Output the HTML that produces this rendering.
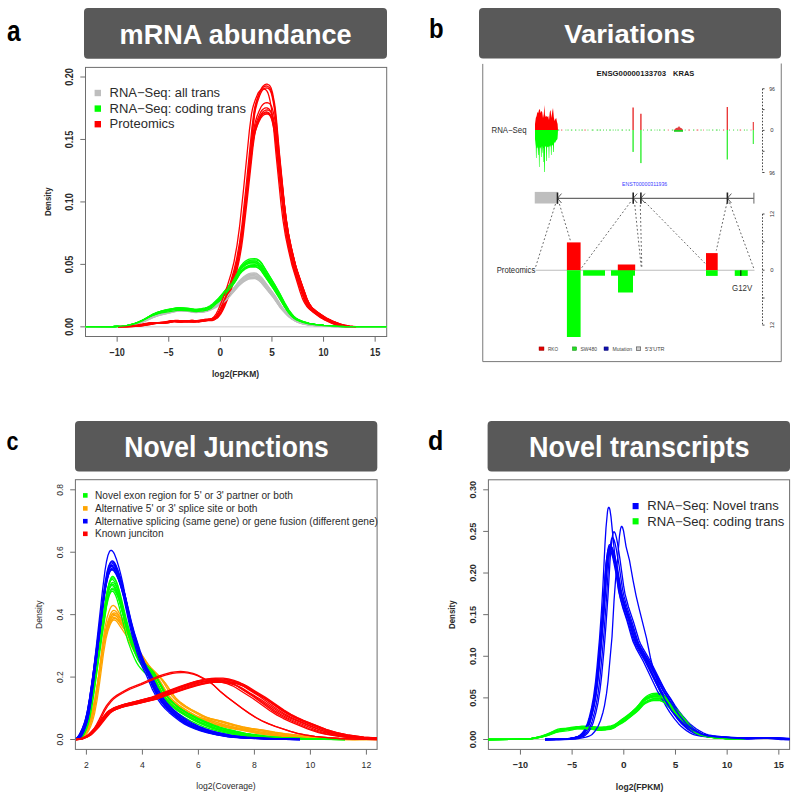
<!DOCTYPE html>
<html><head><meta charset="utf-8"><style>
html,body{margin:0;padding:0;background:#fff;}
svg{display:block;font-family:"Liberation Sans", sans-serif;}
</style></head><body>
<svg width="800" height="800" viewBox="0 0 800 800">
<rect width="800" height="800" fill="#fff"/>
<rect x="84" y="8" width="303" height="50.7" rx="4" fill="#595959"/>
<text x="119.60" y="43.80" font-size="26.71" fill="#fff" font-weight="bold" textLength="232" lengthAdjust="spacingAndGlyphs">mRNA abundance</text>
<rect x="479" y="8" width="302" height="50.6" rx="4" fill="#595959"/>
<text x="564.20" y="43.00" font-size="26.18" fill="#fff" font-weight="bold" textLength="131" lengthAdjust="spacingAndGlyphs">Variations</text>
<rect x="75" y="421" width="302.3" height="50.5" rx="4" fill="#595959"/>
<text x="124.30" y="456.60" font-size="29.26" fill="#fff" font-weight="bold" textLength="204.5" lengthAdjust="spacingAndGlyphs">Novel Junctions</text>
<rect x="487.6" y="421" width="302.4" height="50.60000000000002" rx="4" fill="#595959"/>
<text x="529.00" y="456.80" font-size="29.47" fill="#fff" font-weight="bold" textLength="220.5" lengthAdjust="spacingAndGlyphs">Novel transcripts</text>
<text x="6.90" y="40.60" font-size="29.68" fill="#000" font-weight="bold" textLength="13.6" lengthAdjust="spacingAndGlyphs">a</text>
<text x="428.90" y="37.50" font-size="27.56" fill="#000" font-weight="bold" textLength="14.6" lengthAdjust="spacingAndGlyphs">b</text>
<text x="6.60" y="450.20" font-size="26.08" fill="#000" font-weight="bold" textLength="12.0" lengthAdjust="spacingAndGlyphs">c</text>
<text x="427.90" y="450.20" font-size="27.88" fill="#000" font-weight="bold" textLength="15.3" lengthAdjust="spacingAndGlyphs">d</text>
<rect x="85.5" y="67.4" width="301.2" height="269.1" fill="none" stroke="#6e6e6e" stroke-width="1"/>
<line x1="80.30" y1="326.85" x2="85.50" y2="326.85" stroke="#6e6e6e" stroke-width="1"/>
<text x="72.90" y="326.85" font-size="10.18" fill="#2b2b2b" font-weight="bold" text-anchor="middle" textLength="17.6" lengthAdjust="spacingAndGlyphs" transform="rotate(-90 72.90 326.85)">0.00</text>
<line x1="80.30" y1="264.39" x2="85.50" y2="264.39" stroke="#6e6e6e" stroke-width="1"/>
<text x="72.90" y="264.39" font-size="10.18" fill="#2b2b2b" font-weight="bold" text-anchor="middle" textLength="17.6" lengthAdjust="spacingAndGlyphs" transform="rotate(-90 72.90 264.39)">0.05</text>
<line x1="80.30" y1="201.93" x2="85.50" y2="201.93" stroke="#6e6e6e" stroke-width="1"/>
<text x="72.90" y="201.93" font-size="10.18" fill="#2b2b2b" font-weight="bold" text-anchor="middle" textLength="17.6" lengthAdjust="spacingAndGlyphs" transform="rotate(-90 72.90 201.93)">0.10</text>
<line x1="80.30" y1="139.46" x2="85.50" y2="139.46" stroke="#6e6e6e" stroke-width="1"/>
<text x="72.90" y="139.46" font-size="10.18" fill="#2b2b2b" font-weight="bold" text-anchor="middle" textLength="17.6" lengthAdjust="spacingAndGlyphs" transform="rotate(-90 72.90 139.46)">0.15</text>
<line x1="80.30" y1="77.00" x2="85.50" y2="77.00" stroke="#6e6e6e" stroke-width="1"/>
<text x="72.90" y="77.00" font-size="10.18" fill="#2b2b2b" font-weight="bold" text-anchor="middle" textLength="17.6" lengthAdjust="spacingAndGlyphs" transform="rotate(-90 72.90 77.00)">0.20</text>
<line x1="117.15" y1="336.50" x2="117.15" y2="341.70" stroke="#6e6e6e" stroke-width="1"/>
<text x="117.15" y="355.90" font-size="10.18" fill="#2b2b2b" font-weight="bold" text-anchor="middle" textLength="15.4" lengthAdjust="spacingAndGlyphs">−10</text>
<line x1="168.75" y1="336.50" x2="168.75" y2="341.70" stroke="#6e6e6e" stroke-width="1"/>
<text x="168.75" y="355.90" font-size="10.18" fill="#2b2b2b" font-weight="bold" text-anchor="middle" textLength="9.8" lengthAdjust="spacingAndGlyphs">−5</text>
<line x1="220.35" y1="336.50" x2="220.35" y2="341.70" stroke="#6e6e6e" stroke-width="1"/>
<text x="220.35" y="355.90" font-size="10.18" fill="#2b2b2b" font-weight="bold" text-anchor="middle" textLength="5.6" lengthAdjust="spacingAndGlyphs">0</text>
<line x1="271.95" y1="336.50" x2="271.95" y2="341.70" stroke="#6e6e6e" stroke-width="1"/>
<text x="271.95" y="355.90" font-size="10.18" fill="#2b2b2b" font-weight="bold" text-anchor="middle" textLength="5.6" lengthAdjust="spacingAndGlyphs">5</text>
<line x1="323.55" y1="336.50" x2="323.55" y2="341.70" stroke="#6e6e6e" stroke-width="1"/>
<text x="323.55" y="355.90" font-size="10.18" fill="#2b2b2b" font-weight="bold" text-anchor="middle" textLength="10.2" lengthAdjust="spacingAndGlyphs">10</text>
<line x1="375.15" y1="336.50" x2="375.15" y2="341.70" stroke="#6e6e6e" stroke-width="1"/>
<text x="375.15" y="355.90" font-size="10.18" fill="#2b2b2b" font-weight="bold" text-anchor="middle" textLength="10.2" lengthAdjust="spacingAndGlyphs">15</text>
<line x1="85.50" y1="326.85" x2="386.70" y2="326.85" stroke="#c8c8c8" stroke-width="1"/>
<text x="235.50" y="376.50" font-size="9.12" fill="#2b2b2b" font-weight="bold" text-anchor="middle" textLength="47" lengthAdjust="spacingAndGlyphs">log2(FPKM)</text>
<text x="50.80" y="201.70" font-size="8.48" fill="#2b2b2b" font-weight="bold" text-anchor="middle" textLength="28.6" lengthAdjust="spacingAndGlyphs" transform="rotate(-90 50.80 201.70)">Density</text>
<rect x="94.60" y="89.80" width="6.40" height="6.40" fill="#bebebe"/>
<text x="109.60" y="97.20" font-size="12.30" fill="#2b2b2b" textLength="110.5" lengthAdjust="spacingAndGlyphs">RNA−Seq: all trans</text>
<rect x="94.60" y="105.40" width="6.40" height="6.40" fill="#00ff00"/>
<text x="109.60" y="112.80" font-size="12.30" fill="#2b2b2b" textLength="136.3" lengthAdjust="spacingAndGlyphs">RNA−Seq: coding trans</text>
<rect x="94.60" y="121.00" width="6.40" height="6.40" fill="#ff0000"/>
<text x="109.60" y="128.40" font-size="12.30" fill="#2b2b2b" textLength="65" lengthAdjust="spacingAndGlyphs">Proteomics</text>
<rect x="75.4" y="479.7" width="301.70000000000005" height="269.7" fill="none" stroke="#6e6e6e" stroke-width="1"/>
<line x1="70.20" y1="739.50" x2="75.40" y2="739.50" stroke="#6e6e6e" stroke-width="1"/>
<text x="63.30" y="739.50" font-size="9.01" fill="#2b2b2b" text-anchor="middle" textLength="11.8" lengthAdjust="spacingAndGlyphs" transform="rotate(-90 63.30 739.50)">0.0</text>
<line x1="70.20" y1="677.08" x2="75.40" y2="677.08" stroke="#6e6e6e" stroke-width="1"/>
<text x="63.30" y="677.08" font-size="9.01" fill="#2b2b2b" text-anchor="middle" textLength="11.8" lengthAdjust="spacingAndGlyphs" transform="rotate(-90 63.30 677.08)">0.2</text>
<line x1="70.20" y1="614.65" x2="75.40" y2="614.65" stroke="#6e6e6e" stroke-width="1"/>
<text x="63.30" y="614.65" font-size="9.01" fill="#2b2b2b" text-anchor="middle" textLength="11.8" lengthAdjust="spacingAndGlyphs" transform="rotate(-90 63.30 614.65)">0.4</text>
<line x1="70.20" y1="552.23" x2="75.40" y2="552.23" stroke="#6e6e6e" stroke-width="1"/>
<text x="63.30" y="552.23" font-size="9.01" fill="#2b2b2b" text-anchor="middle" textLength="11.8" lengthAdjust="spacingAndGlyphs" transform="rotate(-90 63.30 552.23)">0.6</text>
<line x1="70.20" y1="489.80" x2="75.40" y2="489.80" stroke="#6e6e6e" stroke-width="1"/>
<text x="63.30" y="489.80" font-size="9.01" fill="#2b2b2b" text-anchor="middle" textLength="11.8" lengthAdjust="spacingAndGlyphs" transform="rotate(-90 63.30 489.80)">0.8</text>
<line x1="86.40" y1="749.40" x2="86.40" y2="754.60" stroke="#6e6e6e" stroke-width="1"/>
<text x="86.40" y="768.10" font-size="9.01" fill="#2b2b2b" text-anchor="middle" textLength="4.8" lengthAdjust="spacingAndGlyphs">2</text>
<line x1="142.40" y1="749.40" x2="142.40" y2="754.60" stroke="#6e6e6e" stroke-width="1"/>
<text x="142.40" y="768.10" font-size="9.01" fill="#2b2b2b" text-anchor="middle" textLength="4.8" lengthAdjust="spacingAndGlyphs">4</text>
<line x1="198.40" y1="749.40" x2="198.40" y2="754.60" stroke="#6e6e6e" stroke-width="1"/>
<text x="198.40" y="768.10" font-size="9.01" fill="#2b2b2b" text-anchor="middle" textLength="4.8" lengthAdjust="spacingAndGlyphs">6</text>
<line x1="254.40" y1="749.40" x2="254.40" y2="754.60" stroke="#6e6e6e" stroke-width="1"/>
<text x="254.40" y="768.10" font-size="9.01" fill="#2b2b2b" text-anchor="middle" textLength="4.8" lengthAdjust="spacingAndGlyphs">8</text>
<line x1="310.40" y1="749.40" x2="310.40" y2="754.60" stroke="#6e6e6e" stroke-width="1"/>
<text x="310.40" y="768.10" font-size="9.01" fill="#2b2b2b" text-anchor="middle" textLength="9.6" lengthAdjust="spacingAndGlyphs">10</text>
<line x1="366.40" y1="749.40" x2="366.40" y2="754.60" stroke="#6e6e6e" stroke-width="1"/>
<text x="366.40" y="768.10" font-size="9.01" fill="#2b2b2b" text-anchor="middle" textLength="9.6" lengthAdjust="spacingAndGlyphs">12</text>
<text x="226.00" y="789.20" font-size="9.12" fill="#2b2b2b" text-anchor="middle" textLength="59.5" lengthAdjust="spacingAndGlyphs">log2(Coverage)</text>
<text x="42.20" y="614.75" font-size="9.01" fill="#2b2b2b" text-anchor="middle" textLength="28.6" lengthAdjust="spacingAndGlyphs" transform="rotate(-90 42.20 614.75)">Density</text>
<rect x="83.00" y="493.10" width="4.60" height="4.60" fill="#00ff00"/>
<text x="95.00" y="499.00" font-size="10.49" fill="#2b2b2b" textLength="198" lengthAdjust="spacingAndGlyphs">Novel exon region for 5' or 3' partner or both</text>
<rect x="83.00" y="506.10" width="4.60" height="4.60" fill="#ffa500"/>
<text x="95.00" y="512.00" font-size="10.49" fill="#2b2b2b" textLength="162.5" lengthAdjust="spacingAndGlyphs">Alternative 5' or 3' splice site or both</text>
<rect x="83.00" y="518.90" width="4.60" height="4.60" fill="#0000ff"/>
<text x="95.00" y="524.80" font-size="10.49" fill="#2b2b2b" textLength="283" lengthAdjust="spacingAndGlyphs">Alternative splicing (same gene) or gene fusion (different gene)</text>
<rect x="83.00" y="531.50" width="4.60" height="4.60" fill="#ff0000"/>
<text x="95.00" y="537.40" font-size="10.49" fill="#2b2b2b" textLength="68.5" lengthAdjust="spacingAndGlyphs">Known junciton</text>
<rect x="488.4" y="479.8" width="301.20000000000005" height="269.59999999999997" fill="none" stroke="#6e6e6e" stroke-width="1"/>
<line x1="483.20" y1="739.50" x2="488.40" y2="739.50" stroke="#6e6e6e" stroke-width="1"/>
<text x="476.20" y="739.50" font-size="9.54" fill="#2b2b2b" font-weight="bold" text-anchor="middle" textLength="17.6" lengthAdjust="spacingAndGlyphs" transform="rotate(-90 476.20 739.50)">0.00</text>
<line x1="483.20" y1="697.88" x2="488.40" y2="697.88" stroke="#6e6e6e" stroke-width="1"/>
<text x="476.20" y="697.88" font-size="9.54" fill="#2b2b2b" font-weight="bold" text-anchor="middle" textLength="17.6" lengthAdjust="spacingAndGlyphs" transform="rotate(-90 476.20 697.88)">0.05</text>
<line x1="483.20" y1="656.27" x2="488.40" y2="656.27" stroke="#6e6e6e" stroke-width="1"/>
<text x="476.20" y="656.27" font-size="9.54" fill="#2b2b2b" font-weight="bold" text-anchor="middle" textLength="17.6" lengthAdjust="spacingAndGlyphs" transform="rotate(-90 476.20 656.27)">0.10</text>
<line x1="483.20" y1="614.65" x2="488.40" y2="614.65" stroke="#6e6e6e" stroke-width="1"/>
<text x="476.20" y="614.65" font-size="9.54" fill="#2b2b2b" font-weight="bold" text-anchor="middle" textLength="17.6" lengthAdjust="spacingAndGlyphs" transform="rotate(-90 476.20 614.65)">0.15</text>
<line x1="483.20" y1="573.03" x2="488.40" y2="573.03" stroke="#6e6e6e" stroke-width="1"/>
<text x="476.20" y="573.03" font-size="9.54" fill="#2b2b2b" font-weight="bold" text-anchor="middle" textLength="17.6" lengthAdjust="spacingAndGlyphs" transform="rotate(-90 476.20 573.03)">0.20</text>
<line x1="483.20" y1="531.42" x2="488.40" y2="531.42" stroke="#6e6e6e" stroke-width="1"/>
<text x="476.20" y="531.42" font-size="9.54" fill="#2b2b2b" font-weight="bold" text-anchor="middle" textLength="17.6" lengthAdjust="spacingAndGlyphs" transform="rotate(-90 476.20 531.42)">0.25</text>
<line x1="483.20" y1="489.80" x2="488.40" y2="489.80" stroke="#6e6e6e" stroke-width="1"/>
<text x="476.20" y="489.80" font-size="9.54" fill="#2b2b2b" font-weight="bold" text-anchor="middle" textLength="17.6" lengthAdjust="spacingAndGlyphs" transform="rotate(-90 476.20 489.80)">0.30</text>
<line x1="520.44" y1="749.40" x2="520.44" y2="754.60" stroke="#6e6e6e" stroke-width="1"/>
<text x="520.44" y="768.20" font-size="9.54" fill="#2b2b2b" font-weight="bold" text-anchor="middle" textLength="15.4" lengthAdjust="spacingAndGlyphs">−10</text>
<line x1="572.12" y1="749.40" x2="572.12" y2="754.60" stroke="#6e6e6e" stroke-width="1"/>
<text x="572.12" y="768.20" font-size="9.54" fill="#2b2b2b" font-weight="bold" text-anchor="middle" textLength="9.8" lengthAdjust="spacingAndGlyphs">−5</text>
<line x1="623.80" y1="749.40" x2="623.80" y2="754.60" stroke="#6e6e6e" stroke-width="1"/>
<text x="623.80" y="768.20" font-size="9.54" fill="#2b2b2b" font-weight="bold" text-anchor="middle" textLength="5.6" lengthAdjust="spacingAndGlyphs">0</text>
<line x1="675.48" y1="749.40" x2="675.48" y2="754.60" stroke="#6e6e6e" stroke-width="1"/>
<text x="675.48" y="768.20" font-size="9.54" fill="#2b2b2b" font-weight="bold" text-anchor="middle" textLength="5.6" lengthAdjust="spacingAndGlyphs">5</text>
<line x1="727.16" y1="749.40" x2="727.16" y2="754.60" stroke="#6e6e6e" stroke-width="1"/>
<text x="727.16" y="768.20" font-size="9.54" fill="#2b2b2b" font-weight="bold" text-anchor="middle" textLength="10.2" lengthAdjust="spacingAndGlyphs">10</text>
<line x1="778.84" y1="749.40" x2="778.84" y2="754.60" stroke="#6e6e6e" stroke-width="1"/>
<text x="778.84" y="768.20" font-size="9.54" fill="#2b2b2b" font-weight="bold" text-anchor="middle" textLength="10.2" lengthAdjust="spacingAndGlyphs">15</text>
<line x1="488.40" y1="739.50" x2="789.60" y2="739.50" stroke="#c8c8c8" stroke-width="1"/>
<text x="639.60" y="790.00" font-size="9.12" fill="#2b2b2b" font-weight="bold" text-anchor="middle" textLength="47.5" lengthAdjust="spacingAndGlyphs">log2(FPKM)</text>
<text x="454.90" y="614.75" font-size="8.48" fill="#2b2b2b" font-weight="bold" text-anchor="middle" textLength="28.6" lengthAdjust="spacingAndGlyphs" transform="rotate(-90 454.90 614.75)">Density</text>
<rect x="632.60" y="503.00" width="6.00" height="6.20" fill="#0000ff"/>
<text x="647.30" y="510.40" font-size="12.08" fill="#2b2b2b" textLength="131.5" lengthAdjust="spacingAndGlyphs">RNA−Seq: Novel trans</text>
<rect x="632.60" y="518.20" width="6.00" height="6.20" fill="#00ff00"/>
<text x="647.30" y="525.60" font-size="12.08" fill="#2b2b2b" textLength="137" lengthAdjust="spacingAndGlyphs">RNA−Seq: coding trans</text>
<path d="M85.5,326.7 119.0,326.4 123.0,326.2 127.5,325.8 133.0,324.7 138.5,323.1 145.0,320.5 152.5,316.7 160.0,313.4 166.0,311.5 173.0,309.9 176.5,309.3 179.5,309.2 188.5,310.1 194.0,310.9 196.5,311.0 201.5,310.6 207.0,309.5 210.5,308.0 218.0,303.8 221.0,301.8 224.0,299.3 226.0,297.4 228.5,294.6 239.0,281.3 241.5,278.7 244.0,276.5 247.0,274.6 249.0,273.6 251.0,273.2 254.0,273.0 256.0,273.2 257.5,273.9 260.0,275.9 262.0,278.0 274.5,295.1 281.0,305.7 284.0,309.6 287.5,313.6 290.0,316.1 293.0,318.6 296.0,320.5 299.5,322.2 303.5,323.5 308.5,324.6 315.5,325.6 321.5,326.0 338.5,326.6 386.5,326.7" fill="none" stroke="#bebebe" stroke-width="1.3" stroke-linejoin="round"/>
<path d="M118.0,326.6 129.0,326.5 138.5,326.0 149.5,324.2 155.0,323.0 168.0,322.4 170.0,322.0 174.0,321.0 176.0,320.8 183.0,320.7 191.0,321.4 197.5,320.6 208.5,320.3 210.5,319.8 214.5,317.5 218.0,315.9 219.5,314.5 221.0,312.4 223.0,308.1 226.5,298.5 229.5,289.7 232.5,280.1 236.5,265.4 238.0,258.4 239.5,250.2 241.5,237.4 243.5,221.1 247.5,181.9 253.0,124.8 254.5,112.3 255.5,106.4 257.5,98.7 259.5,93.0 261.0,89.4 262.0,87.5 263.5,85.7 265.0,84.6 266.5,84.1 267.5,84.2 269.0,85.0 270.0,86.0 271.0,87.8 272.5,92.7 274.5,103.0 275.5,110.4 276.5,120.0 279.5,154.0 284.5,205.1 286.5,221.2 288.5,233.9 291.0,246.4 295.0,264.0 303.0,291.0 305.0,297.0 306.5,300.6 308.0,303.5 309.5,305.7 311.0,307.5 313.5,309.8 319.5,314.7 322.0,316.6 325.0,318.5 329.0,320.6 334.0,323.0 336.5,324.1 339.0,324.8 343.5,325.8 347.0,326.4 356.0,326.6" fill="none" stroke="#ff0000" stroke-width="1.3" stroke-linejoin="round"/>
<path d="M85.5,326.7 113.5,326.5 121.5,326.2 127.0,325.6 132.0,324.5 137.5,322.6 144.0,319.5 151.0,315.2 153.5,314.0 159.0,311.8 164.5,310.3 174.5,308.3 177.5,307.8 180.0,307.8 184.5,308.1 189.0,308.4 194.0,309.2 196.5,309.3 201.5,308.6 205.0,307.9 207.0,307.3 210.0,305.8 212.5,303.9 218.5,298.2 223.0,293.2 228.5,286.3 232.5,280.7 235.5,275.8 239.5,268.0 241.0,265.7 243.0,263.3 245.5,261.1 248.5,259.4 250.5,258.8 254.5,258.6 256.5,258.9 258.0,259.6 260.0,261.1 261.5,262.8 274.5,284.4 279.5,293.4 285.0,304.0 288.5,309.9 291.0,313.4 293.5,316.3 295.5,318.0 298.0,319.5 303.0,321.6 309.0,323.3 316.0,324.6 323.5,325.4 343.5,326.4 386.5,326.7" fill="none" stroke="#00ff00" stroke-width="1.3" stroke-linejoin="round"/>
<path d="M85.5,326.7 120.0,326.4 125.5,326.0 130.0,325.4 136.0,323.9 140.5,322.4 145.0,320.4 153.5,315.9 160.5,313.1 166.5,311.4 175.0,309.7 177.5,309.5 180.5,309.7 187.5,310.7 193.0,311.8 195.5,312.0 200.0,311.7 205.5,310.6 207.5,309.8 210.0,308.3 221.0,301.1 225.0,298.1 227.0,296.2 230.0,292.9 238.5,282.5 240.5,280.4 243.0,278.3 246.0,276.3 248.5,275.1 250.5,274.7 253.5,274.5 255.5,274.7 257.0,275.5 259.5,277.4 261.5,279.5 274.0,296.2 280.5,306.4 283.5,310.2 287.0,314.1 289.5,316.5 292.5,318.9 296.0,321.0 299.0,322.4 303.0,323.6 308.0,324.7 315.0,325.6 321.0,326.0 338.0,326.6 386.5,326.7" fill="none" stroke="#bebebe" stroke-width="1.3" stroke-linejoin="round"/>
<path d="M118.0,326.6 125.5,326.5 134.0,326.0 144.5,324.4 150.5,323.0 155.5,322.9 160.5,322.5 165.0,322.4 171.5,320.9 175.5,320.4 178.0,320.5 183.0,321.5 185.0,321.6 187.0,321.3 190.5,320.3 192.0,320.2 193.5,320.4 196.5,321.4 198.5,321.6 200.0,321.2 203.0,319.8 204.5,319.4 206.0,319.2 210.5,319.2 213.0,318.6 214.5,317.9 215.5,317.1 217.5,314.5 220.5,308.5 225.5,296.9 227.5,291.6 230.0,283.8 233.5,271.8 236.5,259.5 239.5,242.9 242.0,224.5 246.5,182.1 252.0,127.0 254.0,111.5 255.0,106.5 256.0,102.7 257.5,98.1 260.0,91.8 261.5,89.1 262.5,87.8 264.5,86.4 266.0,86.0 267.5,86.2 269.0,87.2 270.0,88.4 271.0,90.5 272.0,93.8 273.0,98.0 274.5,106.3 276.0,118.6 279.0,151.3 284.0,201.2 286.0,217.8 288.5,233.7 291.0,246.0 295.5,265.1 299.5,277.6 303.5,291.0 305.5,296.8 307.0,300.3 308.5,303.2 310.0,305.5 311.5,307.3 314.0,309.6 320.0,314.3 325.5,318.1 332.5,321.7 337.0,323.6 340.0,324.7 344.5,325.7 348.5,326.3 356.0,326.6" fill="none" stroke="#ff0000" stroke-width="1.3" stroke-linejoin="round"/>
<path d="M85.5,326.7 114.5,326.5 122.5,326.1 128.0,325.4 134.0,323.7 138.5,322.1 144.0,319.5 151.5,315.2 157.5,312.7 165.0,310.3 176.0,307.8 179.0,307.6 183.5,307.9 188.0,308.5 194.0,309.8 196.5,310.1 202.5,309.7 205.0,309.3 207.0,308.7 210.0,307.2 212.5,305.3 217.0,301.1 220.5,297.1 232.0,281.8 235.0,277.0 239.0,269.6 242.0,265.7 244.5,263.5 247.5,261.7 250.0,261.0 253.5,260.8 255.5,261.0 257.5,261.9 259.5,263.4 261.0,265.1 274.0,286.1 279.0,294.9 284.5,305.1 288.0,310.8 290.5,314.1 293.0,316.8 295.0,318.4 297.5,319.9 302.5,321.8 308.5,323.5 315.5,324.7 323.5,325.5 343.0,326.5 386.5,326.7" fill="none" stroke="#00ff00" stroke-width="1.3" stroke-linejoin="round"/>
<path d="M85.5,326.7 120.5,326.4 126.5,326.0 131.0,325.3 136.5,324.0 141.5,322.3 145.5,320.7 153.5,316.7 161.0,313.7 167.5,311.7 176.5,309.5 179.5,309.4 183.5,309.6 188.5,310.3 194.5,311.6 197.0,311.8 202.5,311.6 205.0,311.3 207.0,310.8 210.5,309.4 217.5,305.6 220.5,303.7 223.5,301.5 227.5,297.5 238.5,284.1 241.0,281.6 243.5,279.5 246.0,277.9 248.5,276.7 250.5,276.2 254.0,276.0 255.5,276.2 257.0,276.8 259.5,278.6 261.5,280.6 274.0,296.7 281.0,307.3 287.0,314.1 289.5,316.5 292.5,318.9 295.5,320.8 299.0,322.4 303.0,323.6 308.0,324.7 315.0,325.6 321.0,326.0 338.5,326.6 386.5,326.7" fill="none" stroke="#bebebe" stroke-width="1.3" stroke-linejoin="round"/>
<path d="M118.0,326.7 131.5,326.6 139.5,326.0 151.5,324.3 159.5,322.6 162.0,322.5 166.0,322.8 168.0,322.8 174.5,321.3 181.0,320.6 183.0,320.6 187.5,321.2 190.0,321.3 194.5,321.0 200.5,321.0 207.0,319.8 212.5,319.9 214.5,319.3 217.0,317.6 219.0,315.5 221.0,312.5 223.5,307.9 226.0,301.8 229.0,293.3 232.0,283.8 236.5,267.6 238.0,260.9 240.0,249.9 242.0,236.6 243.5,224.2 247.5,185.0 253.0,127.6 254.5,115.2 255.5,109.4 257.5,101.7 259.5,96.1 261.0,92.6 262.0,90.8 263.5,89.1 265.0,88.1 266.5,87.8 268.0,88.2 269.0,89.0 270.0,90.2 271.0,92.4 272.0,95.9 273.0,100.5 274.5,109.5 276.0,123.1 279.0,157.2 283.5,203.7 285.5,220.6 288.0,236.6 291.0,251.3 294.5,266.4 302.0,291.7 304.0,297.6 305.5,301.2 307.0,304.0 308.5,306.3 310.0,308.0 312.5,310.3 319.0,315.6 322.0,317.7 325.0,319.5 333.5,323.6 336.0,324.5 338.5,325.2 342.5,326.0 346.0,326.5 356.0,326.6" fill="none" stroke="#ff0000" stroke-width="1.3" stroke-linejoin="round"/>
<path d="M85.5,326.7 113.5,326.5 121.5,326.2 126.5,325.7 131.0,324.8 137.0,322.9 143.5,319.9 150.5,315.9 153.0,314.7 159.0,312.6 165.0,311.1 174.5,309.4 177.5,309.0 184.0,309.4 188.5,309.9 193.5,310.8 196.0,310.9 201.0,310.5 204.5,309.8 206.5,309.2 209.5,307.7 212.0,305.9 216.5,301.6 220.5,297.3 229.0,287.5 232.0,283.7 235.0,279.4 239.5,271.3 241.0,269.3 243.0,267.2 245.5,265.2 248.5,263.7 250.5,263.2 254.0,263.0 256.0,263.2 257.5,263.9 259.5,265.2 261.0,266.7 274.0,286.9 279.0,295.3 285.0,306.0 288.5,311.5 291.0,314.6 293.5,317.2 295.5,318.8 298.0,320.1 303.0,322.0 309.0,323.6 316.0,324.7 324.0,325.5 343.5,326.5 386.5,326.7" fill="none" stroke="#00ff00" stroke-width="1.3" stroke-linejoin="round"/>
<path d="M85.5,326.7 119.5,326.4 128.0,325.8 134.5,324.6 139.5,323.3 145.5,321.1 153.5,317.3 161.0,314.2 167.0,312.3 174.5,310.7 177.5,310.3 180.5,310.3 188.0,311.2 194.0,312.2 196.5,312.4 201.0,312.1 206.5,311.0 210.0,309.5 219.5,304.1 223.0,301.9 225.5,300.1 229.5,296.1 239.5,284.4 241.5,282.5 244.0,280.5 246.5,278.9 249.0,277.7 251.0,277.2 254.5,277.1 256.0,277.2 257.5,277.8 260.0,279.6 262.0,281.5 274.5,297.3 281.5,307.7 287.5,314.4 290.0,316.7 293.0,319.1 296.0,320.9 299.5,322.5 303.5,323.7 308.5,324.7 315.5,325.6 321.5,326.1 339.0,326.6 386.5,326.7" fill="none" stroke="#bebebe" stroke-width="1.3" stroke-linejoin="round"/>
<path d="M118.0,326.6 129.0,326.2 139.5,325.2 152.0,322.7 154.0,322.8 157.5,323.4 159.0,323.4 165.5,322.2 169.5,321.0 171.0,320.7 172.5,320.9 176.5,321.8 188.5,320.9 190.0,321.0 193.5,322.0 195.0,322.0 200.5,320.5 204.0,320.3 208.0,319.7 211.0,319.8 212.5,319.6 213.5,319.2 214.5,318.3 216.0,316.4 221.5,307.5 225.0,299.7 228.5,290.6 231.0,283.5 234.0,273.9 236.0,266.4 237.5,259.6 239.5,249.1 242.0,232.5 246.5,194.0 252.0,143.5 253.5,131.7 254.5,125.6 255.5,121.2 257.0,116.3 259.0,111.3 261.0,107.0 262.0,105.5 263.5,103.9 265.5,102.8 267.0,102.6 268.0,102.8 269.5,103.6 270.5,104.6 271.5,106.3 272.5,109.1 273.5,112.8 275.5,123.0 277.0,134.8 280.0,164.9 285.0,210.3 287.0,225.4 289.5,240.0 292.0,251.2 296.5,268.8 306.5,298.0 308.0,301.4 309.5,304.2 311.0,306.4 312.5,308.2 316.0,311.1 322.5,315.8 326.0,318.0 332.5,321.2 341.0,324.5 344.5,325.4 349.5,326.2 352.5,326.5 356.0,326.6" fill="none" stroke="#ff0000" stroke-width="1.3" stroke-linejoin="round"/>
<path d="M85.5,326.7 114.0,326.6 122.0,326.2 127.0,325.7 132.5,324.5 140.0,322.1 145.5,319.9 153.0,316.0 159.0,313.3 163.5,311.6 167.5,310.5 174.0,309.6 178.0,309.3 189.0,309.8 195.0,310.5 198.0,310.5 206.0,309.8 209.5,308.9 212.0,307.7 214.5,305.8 218.0,302.8 221.0,299.6 233.5,283.7 236.0,279.9 240.0,272.9 243.0,269.2 245.5,267.1 248.5,265.5 251.0,264.8 254.5,264.6 256.5,264.8 258.5,265.6 260.5,267.1 262.0,268.7 275.0,288.5 280.0,296.7 285.5,306.3 289.0,311.7 291.5,314.8 294.0,317.4 296.0,318.9 298.5,320.3 303.5,322.1 309.5,323.7 316.5,324.8 324.0,325.5 344.0,326.5 386.5,326.7" fill="none" stroke="#00ff00" stroke-width="1.3" stroke-linejoin="round"/>
<path d="M85.5,326.7 118.0,326.5 126.5,325.9 132.0,324.9 137.5,323.4 144.0,320.9 151.5,317.6 158.0,315.4 163.5,314.0 175.5,311.4 178.5,311.0 183.0,311.1 187.5,311.4 193.5,312.3 196.0,312.5 200.5,312.2 205.5,311.3 208.0,310.3 210.5,309.0 220.0,303.4 224.5,300.3 226.5,298.6 229.5,295.5 238.5,285.3 240.5,283.4 243.0,281.4 245.5,279.9 248.0,278.7 250.0,278.3 253.5,278.1 255.0,278.2 256.5,278.8 259.0,280.5 261.0,282.4 273.5,297.9 280.5,308.1 286.5,314.6 289.0,316.9 292.0,319.2 295.0,321.0 298.5,322.6 302.5,323.8 307.5,324.8 314.5,325.7 320.5,326.1 338.0,326.6 386.5,326.7" fill="none" stroke="#bebebe" stroke-width="1.3" stroke-linejoin="round"/>
<path d="M118.0,326.7 128.0,326.5 135.0,326.1 146.0,324.9 154.5,323.1 157.5,322.9 165.5,323.0 172.0,321.7 176.0,321.2 178.5,321.2 183.5,321.6 188.5,321.4 195.0,321.7 198.5,321.6 204.5,320.5 211.0,319.9 213.5,319.4 215.0,318.9 216.5,317.9 217.5,316.9 219.0,314.9 221.0,311.5 222.5,308.3 226.0,300.2 228.5,293.7 234.0,277.3 237.0,266.0 240.0,250.7 242.5,233.5 246.5,198.8 252.0,147.6 253.5,135.7 254.5,129.8 255.5,125.4 256.5,122.1 258.5,116.8 260.5,112.4 261.5,110.8 263.0,109.2 264.5,108.2 266.0,107.8 267.0,107.9 268.5,108.6 269.5,109.5 270.5,111.0 271.5,113.6 272.5,117.3 274.5,127.4 276.0,139.3 279.0,169.7 284.0,215.5 286.0,230.3 288.5,244.3 291.5,257.4 295.0,270.9 299.0,282.5 302.5,293.4 304.5,299.0 306.0,302.3 307.5,305.1 309.0,307.3 310.5,309.0 313.0,311.1 319.0,315.5 324.5,319.0 328.5,321.0 333.5,323.1 336.5,324.3 339.0,325.0 344.0,326.0 347.5,326.4 356.0,326.6" fill="none" stroke="#ff0000" stroke-width="1.3" stroke-linejoin="round"/>
<path d="M85.5,326.7 113.0,326.5 121.0,326.2 126.5,325.7 132.0,324.5 138.0,322.7 144.0,320.3 151.5,316.3 156.5,314.1 162.0,312.1 167.5,310.7 174.0,309.6 177.5,309.4 181.5,309.8 192.5,311.4 195.5,311.6 200.5,311.0 206.0,309.6 209.0,308.3 211.5,306.7 218.5,300.9 222.5,296.9 227.5,291.3 231.5,286.2 234.5,281.9 239.0,274.1 240.5,272.2 242.5,270.1 245.0,268.3 248.0,266.8 250.0,266.4 253.5,266.2 255.5,266.4 257.0,267.0 259.0,268.3 260.5,269.7 273.5,288.9 278.5,296.9 284.5,307.0 288.0,312.2 290.5,315.3 293.0,317.7 295.0,319.2 297.5,320.5 302.5,322.3 308.5,323.8 315.5,324.9 323.5,325.6 343.0,326.5 386.5,326.7" fill="none" stroke="#00ff00" stroke-width="1.3" stroke-linejoin="round"/>
<path d="M85.5,326.7 120.0,326.4 124.0,326.2 128.5,325.8 133.5,324.7 138.5,323.3 144.5,320.7 153.5,316.3 158.0,314.6 162.5,313.5 179.5,310.3 188.5,310.0 195.0,310.6 197.5,310.7 203.0,310.1 207.5,309.3 210.5,308.0 219.5,303.1 222.5,301.2 225.5,298.8 229.5,294.6 239.5,282.2 242.0,279.6 244.5,277.5 247.5,275.6 249.5,274.6 251.5,274.2 254.5,274.0 256.5,274.2 258.0,274.9 260.5,276.9 262.5,279.0 275.0,295.7 281.5,306.1 284.5,309.9 288.0,313.8 290.5,316.3 293.5,318.7 296.5,320.6 300.0,322.3 304.0,323.6 309.0,324.6 315.5,325.5 321.5,326.0 339.0,326.6 386.5,326.7" fill="none" stroke="#bebebe" stroke-width="1.3" stroke-linejoin="round"/>
<path d="M118.0,326.6 125.0,326.4 132.5,325.9 140.0,324.9 152.5,322.8 154.5,322.8 159.0,323.4 161.0,323.4 163.0,323.0 168.0,321.5 172.5,320.8 175.0,321.0 179.0,322.2 180.5,322.4 182.0,322.3 186.0,321.2 187.5,320.9 194.0,321.7 200.0,321.3 203.5,320.8 208.5,319.5 213.5,318.8 214.5,318.3 215.5,317.5 217.0,315.7 219.0,312.4 221.5,307.7 224.0,302.6 226.0,297.9 232.5,279.8 234.5,273.5 236.0,268.0 237.5,261.5 239.5,251.3 242.0,235.3 246.5,198.4 252.0,149.9 253.5,138.5 254.5,132.5 255.5,128.2 257.0,123.5 259.0,118.6 261.0,114.4 262.0,112.9 263.5,111.3 265.5,110.2 267.0,109.9 268.0,110.0 269.5,110.7 270.5,111.5 271.5,113.0 272.5,115.4 273.5,118.8 275.5,127.9 277.0,138.5 280.5,171.7 285.5,215.1 287.5,229.4 290.0,243.2 292.5,253.9 297.0,270.7 307.0,298.7 308.5,302.0 310.0,304.7 311.5,306.9 313.0,308.6 316.5,311.5 326.0,317.9 332.5,321.1 341.5,324.5 344.5,325.2 349.5,326.1 353.0,326.5 356.0,326.6" fill="none" stroke="#ff0000" stroke-width="1.3" stroke-linejoin="round"/>
<path d="M85.5,326.7 114.5,326.5 122.5,326.2 127.5,325.7 132.5,324.6 138.0,322.7 144.5,319.3 153.0,314.0 157.0,312.4 161.5,311.1 178.5,308.5 182.0,308.4 188.5,308.6 195.0,309.4 197.5,309.5 204.5,308.8 206.5,308.4 208.5,307.8 211.5,306.3 214.0,304.4 218.5,300.2 222.0,296.3 230.0,285.7 233.5,280.8 236.0,276.9 240.5,268.4 243.5,264.6 246.0,262.4 249.0,260.7 251.0,260.1 255.0,259.8 257.0,260.1 258.5,260.8 260.5,262.2 262.0,263.8 275.0,285.0 280.0,293.9 285.5,304.2 289.0,310.1 291.5,313.5 294.0,316.4 296.0,318.1 298.5,319.6 303.5,321.6 309.5,323.3 316.5,324.6 324.0,325.4 344.5,326.5 386.5,326.7" fill="none" stroke="#00ff00" stroke-width="1.3" stroke-linejoin="round"/>
<path d="M85.5,326.7 119.0,326.4 127.5,325.8 133.0,324.8 138.5,323.3 144.5,321.1 152.5,317.6 160.0,315.1 176.0,311.1 179.0,310.7 183.5,310.7 188.0,311.1 194.0,312.0 197.0,312.2 202.0,311.8 206.5,311.0 210.0,309.5 218.5,304.8 222.0,302.7 225.0,300.5 227.0,298.7 229.5,296.1 239.0,285.1 241.5,282.7 244.0,280.7 247.0,279.0 249.0,278.1 251.0,277.7 254.0,277.6 256.0,277.8 257.5,278.4 260.0,280.3 262.0,282.3 274.5,298.0 281.0,307.6 284.0,311.1 287.5,314.8 290.0,317.1 293.0,319.3 296.0,321.1 299.0,322.5 303.0,323.7 308.0,324.7 315.0,325.6 321.0,326.1 338.5,326.6 386.5,326.7" fill="none" stroke="#bebebe" stroke-width="1.3" stroke-linejoin="round"/>
<path d="M118.0,326.7 130.5,326.6 140.5,326.0 155.0,323.6 159.0,323.2 165.5,323.2 173.5,321.8 180.5,321.4 186.0,321.8 192.0,321.3 199.0,322.0 201.0,321.7 206.0,320.3 212.0,320.5 214.5,319.8 217.0,318.3 218.5,316.9 220.5,314.3 222.5,310.9 225.0,305.6 228.0,298.2 231.5,288.6 234.5,279.4 236.5,272.5 239.5,258.9 241.5,247.3 243.0,236.7 247.0,202.0 253.0,146.6 254.5,135.8 255.5,130.9 257.5,124.2 259.5,119.3 261.0,116.1 262.0,114.5 263.5,113.1 265.0,112.2 266.5,111.9 268.0,112.3 269.0,112.9 270.0,114.0 271.0,116.0 272.0,119.0 273.0,123.0 274.5,130.9 276.0,142.7 279.0,173.1 283.5,214.7 285.5,230.0 288.0,244.6 290.5,255.8 294.5,271.5 302.0,294.1 304.0,299.6 305.5,303.0 307.0,305.7 308.5,307.8 310.0,309.5 312.5,311.6 319.0,316.3 324.5,319.6 333.5,323.6 338.5,325.2 343.0,326.0 346.5,326.5 356.0,326.7" fill="none" stroke="#ff0000" stroke-width="1.3" stroke-linejoin="round"/>
<path d="M85.5,326.7 116.0,326.5 123.5,326.1 129.0,325.4 134.5,324.0 139.0,322.5 145.0,319.8 152.5,316.0 160.5,312.9 168.5,310.3 174.0,308.9 176.5,308.4 179.5,308.4 183.0,308.8 188.0,309.9 194.0,311.5 196.5,311.9 199.0,311.9 202.0,311.7 205.0,311.2 207.0,310.6 209.5,309.4 212.0,307.6 216.5,303.4 220.5,299.0 229.5,288.6 232.5,284.9 235.5,280.6 239.5,273.6 241.0,271.6 243.0,269.4 245.5,267.5 248.5,266.0 250.5,265.5 254.0,265.3 256.0,265.4 257.5,266.0 260.0,267.6 261.5,269.2 274.5,288.7 279.5,296.9 285.0,306.4 288.5,311.7 291.0,314.8 293.5,317.4 295.5,318.9 298.0,320.3 303.0,322.1 309.0,323.7 316.0,324.8 323.5,325.5 343.5,326.5 386.5,326.7" fill="none" stroke="#00ff00" stroke-width="1.3" stroke-linejoin="round"/>
<path d="M85.5,326.7 118.5,326.4 126.5,325.8 132.0,324.7 137.5,323.2 143.5,320.9 151.5,317.3 158.0,315.0 175.5,310.3 179.0,309.9 183.5,310.0 187.5,310.3 193.5,311.2 196.0,311.3 201.0,311.0 205.5,310.2 209.0,308.7 217.5,304.0 221.0,301.8 224.0,299.5 228.0,295.5 238.0,283.4 240.5,280.9 243.0,278.8 246.0,277.0 248.0,276.1 250.0,275.7 253.0,275.5 255.0,275.8 256.5,276.5 259.0,278.4 261.0,280.5 273.5,296.8 280.0,306.8 283.0,310.5 286.5,314.3 289.0,316.7 292.0,319.0 295.5,321.1 298.5,322.5 302.5,323.7 307.5,324.7 314.5,325.6 320.5,326.1 337.5,326.6 386.5,326.7" fill="none" stroke="#bebebe" stroke-width="1.3" stroke-linejoin="round"/>
<path d="M118.0,326.6 125.0,326.5 132.5,326.0 142.0,324.9 150.5,323.4 154.0,323.1 163.0,322.9 175.5,321.0 177.5,321.1 183.0,321.8 187.0,322.0 190.0,321.9 196.0,321.1 203.5,321.2 205.5,321.1 209.0,320.1 214.0,317.9 216.0,316.3 218.5,313.2 221.0,308.9 224.0,302.2 227.5,293.4 230.5,285.1 233.0,277.6 235.0,270.7 238.0,257.3 240.0,246.0 241.5,235.6 246.0,198.3 251.5,149.8 253.0,138.8 254.0,133.5 256.0,126.5 258.0,121.6 260.0,117.4 261.0,115.8 262.5,114.2 264.5,113.1 266.0,112.8 267.0,113.0 268.5,113.7 269.5,114.7 270.5,116.3 271.5,118.9 272.5,122.5 274.5,132.2 276.0,143.6 279.0,172.5 284.0,216.3 286.0,230.7 288.5,244.5 291.0,255.2 295.5,272.0 299.5,283.0 303.5,294.8 305.5,300.0 307.0,303.1 308.5,305.7 310.0,307.7 311.5,309.3 314.0,311.4 320.0,315.6 325.5,318.9 332.0,321.9 337.0,323.9 340.0,324.8 348.5,326.3 356.0,326.6" fill="none" stroke="#ff0000" stroke-width="1.3" stroke-linejoin="round"/>
<path d="M85.5,326.7 114.5,326.5 122.0,326.1 127.5,325.4 135.0,323.3 141.0,321.1 145.0,319.1 152.5,314.8 159.0,311.8 163.5,310.3 168.0,309.4 173.5,308.7 177.0,308.6 187.0,309.4 193.0,310.2 196.0,310.4 203.5,309.9 207.0,309.0 209.5,307.8 211.5,306.4 215.0,303.1 218.0,299.7 224.0,291.8 232.0,282.0 234.5,278.2 238.5,270.9 241.5,267.2 244.0,265.0 247.0,263.3 249.5,262.6 253.0,262.4 255.0,262.6 257.0,263.5 259.0,264.9 260.5,266.6 273.5,287.1 278.5,295.7 284.0,305.6 287.5,311.2 290.0,314.4 292.5,317.1 294.5,318.6 297.0,320.0 302.0,321.9 308.0,323.5 315.0,324.7 323.0,325.5 342.5,326.5 386.5,326.7" fill="none" stroke="#00ff00" stroke-width="1.3" stroke-linejoin="round"/>
<path d="M85.5,326.7 119.0,326.4 127.0,325.9 132.5,325.0 138.0,323.5 144.0,321.2 152.0,317.7 158.0,315.7 176.5,311.3 180.0,310.9 185.5,310.9 189.0,311.2 195.0,312.1 197.5,312.3 203.5,312.0 207.0,311.4 210.5,310.1 217.0,306.8 220.5,304.7 223.5,302.5 225.5,300.7 228.0,298.2 238.5,286.2 241.0,283.9 243.5,281.9 246.0,280.4 248.5,279.2 250.5,278.8 254.0,278.6 255.5,278.7 257.0,279.3 259.5,281.0 261.5,282.9 274.0,298.2 281.0,308.3 287.0,314.8 289.5,317.1 292.5,319.3 295.5,321.1 299.0,322.6 303.0,323.8 308.0,324.8 315.0,325.7 321.0,326.1 338.5,326.6 386.5,326.7" fill="none" stroke="#bebebe" stroke-width="1.3" stroke-linejoin="round"/>
<path d="M118.0,326.6 131.0,325.9 138.0,325.0 145.5,323.5 155.0,323.3 162.0,322.6 170.5,321.3 173.0,321.4 178.0,322.1 179.5,322.0 183.5,321.2 185.0,321.1 190.5,322.0 193.0,322.0 198.5,321.1 204.5,320.7 213.0,318.6 215.0,317.7 217.0,315.6 218.5,313.2 219.5,311.1 223.0,302.7 227.5,292.5 230.0,286.2 232.5,279.0 234.5,272.5 237.5,260.0 239.5,249.6 241.5,236.7 246.0,200.8 252.0,149.7 253.5,139.3 254.5,134.3 255.5,130.5 257.0,126.3 259.5,120.6 261.0,117.8 262.0,116.5 263.5,115.1 265.0,114.3 266.5,114.0 268.0,114.2 269.5,115.0 270.5,115.9 271.5,117.5 272.5,120.1 273.5,123.6 275.5,132.9 277.0,143.7 280.5,176.2 285.5,218.2 287.5,231.9 290.0,245.2 292.5,255.5 297.0,271.8 307.0,299.1 308.5,302.3 310.0,305.0 311.5,307.1 313.0,308.8 316.5,311.7 326.0,317.9 332.5,321.0 342.0,324.6 350.0,326.1 356.0,326.6" fill="none" stroke="#ff0000" stroke-width="1.3" stroke-linejoin="round"/>
<path d="M85.5,326.7 113.5,326.6 121.5,326.3 127.0,325.8 131.5,324.8 137.0,323.2 143.5,320.3 150.0,316.6 152.5,315.4 157.0,313.9 161.5,312.8 177.5,310.4 181.0,310.3 187.0,310.6 194.0,311.4 196.5,311.5 203.0,310.9 205.5,310.4 207.5,309.8 210.0,308.7 212.5,307.0 217.0,303.1 220.5,299.5 232.5,285.7 235.0,282.2 239.5,274.7 242.5,271.2 245.0,269.2 248.0,267.7 250.0,267.1 254.0,266.9 256.0,267.1 257.5,267.6 259.5,268.9 261.0,270.3 274.0,289.3 279.0,297.2 285.0,307.2 288.5,312.4 291.0,315.4 293.5,317.8 295.5,319.3 298.0,320.5 303.0,322.3 309.0,323.8 316.0,324.9 324.0,325.6 343.5,326.5 386.5,326.7" fill="none" stroke="#00ff00" stroke-width="1.3" stroke-linejoin="round"/>
<path d="M118.0,326.6 126.5,326.5 136.5,325.7 141.5,324.9 148.0,323.1 150.0,323.0 154.5,323.2 157.0,323.1 167.5,321.3 172.0,321.3 177.0,321.0 184.0,320.8 191.0,321.4 194.5,321.2 201.0,320.0 207.5,319.5 210.5,318.9 212.0,318.3 213.5,317.3 214.5,316.2 216.0,314.0 218.0,310.2 219.5,306.8 223.5,296.9 226.0,290.1 231.0,273.9 234.0,261.8 237.0,245.3 239.5,227.2 243.5,189.7 249.5,129.3 251.5,113.9 252.5,108.9 253.5,105.1 255.5,99.2 257.5,94.4 258.5,92.4 260.0,90.6 262.0,89.2 263.5,88.9 265.0,89.3 266.0,90.0 267.0,91.1 268.0,93.1 269.0,96.3 270.0,100.5 271.5,108.8 273.0,121.1 276.0,154.0 281.0,204.1 283.0,220.5 285.5,236.2 288.0,248.2 292.0,265.3 300.0,291.5 302.0,297.4 303.5,300.9 305.0,303.7 306.5,306.0 308.0,307.7 310.5,310.0 317.5,315.5 320.5,317.6 323.5,319.3 332.5,323.6 335.0,324.5 337.5,325.1 342.0,326.0 345.5,326.5 356.0,326.6" fill="none" stroke="#ff0000" stroke-width="1.3" stroke-linejoin="round"/>
<path d="M85.5,326.7 114.0,326.5 121.5,326.2 126.5,325.7 131.5,324.6 137.5,322.5 144.5,319.2 151.0,315.7 154.0,314.5 160.5,312.3 166.5,310.7 174.0,309.4 177.5,309.1 193.0,310.6 196.0,310.6 201.0,309.8 207.0,308.1 210.0,306.7 212.5,304.9 217.5,300.4 221.5,296.1 229.5,286.6 232.5,282.7 235.5,278.2 240.0,270.1 241.5,268.0 243.5,265.9 246.0,263.9 249.0,262.4 251.0,261.9 254.5,261.8 256.5,262.0 258.0,262.7 260.0,264.0 261.5,265.6 274.5,286.2 279.5,294.8 285.0,304.9 288.5,310.6 291.0,313.9 293.5,316.7 295.5,318.3 298.0,319.8 303.0,321.8 309.0,323.4 316.0,324.7 323.5,325.4 344.0,326.5 386.5,326.7" fill="none" stroke="#00ff00" stroke-width="1.3" stroke-linejoin="round"/>
<path d="M76.0,739.2 79.0,739.3 81.0,738.7 82.5,737.7 84.5,735.5 86.5,732.3 88.5,728.2 90.5,723.0 92.0,718.1 94.0,709.2 96.5,693.5 98.5,678.1 102.5,644.0 105.0,627.0 107.0,617.8 109.0,611.4 110.0,608.9 111.0,607.0 112.0,605.9 113.0,605.5 113.5,605.5 114.5,606.0 115.5,607.0 116.5,608.3 124.5,621.8 126.0,624.9 129.5,633.4 132.0,638.9 142.5,659.0 145.0,662.7 151.5,670.8 155.0,675.7 157.5,679.9 163.0,690.5 165.5,694.4 169.5,699.2 172.0,701.6 175.0,704.1 185.0,711.2 191.5,715.0 195.5,716.7 205.0,719.7 216.0,723.8 226.5,726.8 239.5,729.3 249.0,731.4 257.0,733.0 266.0,734.4 280.0,736.3 290.5,737.5 301.5,738.3 316.0,738.9 332.0,739.4 345.0,739.5 356.5,739.4 366.5,738.9 377.0,738.2" fill="none" stroke="#ffa500" stroke-width="1.3" stroke-linejoin="round"/>
<path d="M76.0,739.4 78.5,739.3 80.5,738.6 82.5,737.1 84.5,734.7 86.5,731.6 88.5,727.6 90.5,722.6 92.0,717.9 94.0,709.5 96.5,694.9 98.5,680.8 103.0,645.7 105.5,630.6 107.5,622.3 110.0,615.2 111.0,613.1 112.0,611.6 113.0,610.7 114.0,610.4 115.5,611.0 117.5,613.1 126.0,626.3 127.5,629.1 131.0,636.9 133.5,642.0 138.5,651.0 145.0,662.1 147.5,665.5 154.5,673.4 158.0,677.9 161.0,682.6 166.5,692.4 169.0,695.9 173.0,700.3 178.5,705.0 187.5,710.9 195.5,715.5 198.5,716.8 201.5,717.8 211.0,720.5 222.5,724.4 231.5,726.8 237.0,728.0 248.0,729.8 260.0,732.2 276.5,734.8 299.0,737.4 320.0,738.7 334.0,739.1 352.5,739.5 365.0,739.5 377.0,739.2" fill="none" stroke="#ffa500" stroke-width="1.3" stroke-linejoin="round"/>
<path d="M76.0,739.4 78.0,739.0 80.0,737.9 82.0,736.1 84.0,733.6 86.0,730.3 88.0,726.3 89.5,722.7 91.0,718.4 93.0,710.7 95.5,697.5 98.0,681.3 102.5,648.6 104.0,639.3 105.5,631.8 107.5,624.4 110.0,617.7 112.0,614.2 113.0,613.3 114.0,612.9 115.0,613.0 116.5,613.9 118.0,615.5 119.5,617.5 127.5,629.1 135.0,643.8 146.5,662.6 149.5,666.5 157.5,674.9 161.5,679.7 164.5,684.1 169.5,692.5 172.5,696.6 177.0,701.2 182.5,705.4 189.5,709.8 199.5,715.3 203.0,716.8 206.5,718.0 217.0,720.8 229.5,724.7 237.5,726.7 243.5,728.0 256.0,729.9 267.0,732.0 281.0,734.2 303.0,736.7 319.0,738.0 345.5,739.1 377.0,739.5" fill="none" stroke="#ffa500" stroke-width="1.3" stroke-linejoin="round"/>
<path d="M76.0,739.4 78.5,739.3 80.5,738.8 82.5,737.5 84.5,735.2 86.5,732.3 88.5,728.4 90.5,723.5 92.0,719.0 94.0,710.8 96.5,696.5 98.5,682.5 103.0,647.9 105.5,633.2 107.5,625.1 109.5,619.4 110.5,617.2 111.5,615.6 112.5,614.6 113.5,614.2 115.0,614.7 117.0,616.7 125.0,628.9 127.0,632.5 130.5,640.2 133.0,645.2 144.0,664.3 146.5,667.7 153.5,675.5 157.0,680.0 159.5,683.8 165.0,693.6 167.5,697.1 171.5,701.5 177.0,706.1 186.5,712.2 194.0,716.4 198.5,718.2 208.5,721.0 219.0,724.5 229.5,727.3 234.5,728.4 244.5,730.0 259.5,732.9 269.0,734.4 279.5,735.8 290.0,737.0 299.0,737.8 324.0,739.0 341.5,739.4 355.5,739.5 366.0,739.3 377.0,738.9" fill="none" stroke="#ffa500" stroke-width="1.3" stroke-linejoin="round"/>
<path d="M76.0,739.1 78.0,738.5 79.5,737.5 81.5,735.6 83.5,733.1 85.5,729.9 87.5,726.0 89.0,722.5 90.5,718.3 92.5,710.9 95.0,698.4 97.5,683.1 102.5,648.9 105.0,635.6 107.0,628.0 108.5,623.7 110.0,620.3 111.5,617.5 112.5,616.3 113.5,615.5 114.5,615.3 115.5,615.6 116.5,616.1 118.5,618.1 128.0,631.0 129.5,633.4 133.5,641.3 136.0,645.7 141.0,653.6 148.5,664.8 151.0,667.9 159.5,676.3 163.5,680.8 166.5,685.0 172.0,693.6 174.5,696.9 179.0,701.4 184.5,705.5 191.0,709.5 202.0,715.3 206.0,717.1 210.0,718.4 221.0,721.1 233.0,724.7 241.0,726.6 249.5,728.3 261.0,730.0 272.5,732.1 283.5,733.7 306.5,736.4 324.0,737.9 349.0,739.0 377.0,739.5" fill="none" stroke="#ffa500" stroke-width="1.3" stroke-linejoin="round"/>
<path d="M76.0,739.4 78.0,739.2 80.0,738.4 82.0,736.8 84.0,734.5 86.0,731.5 88.0,727.7 90.0,723.0 91.5,718.6 93.5,710.7 96.0,697.2 98.0,684.3 102.5,651.9 104.0,642.7 105.5,635.3 107.5,628.0 110.0,621.6 111.0,619.7 112.0,618.3 113.0,617.5 114.0,617.3 115.5,617.8 117.5,619.7 126.5,632.5 128.0,635.1 131.5,642.3 134.0,647.0 139.0,655.3 146.0,666.3 148.5,669.4 156.0,677.2 159.5,681.4 162.5,685.7 168.0,694.7 170.5,698.0 175.0,702.6 180.5,706.8 188.5,711.7 197.5,716.5 200.5,717.8 204.0,718.9 214.0,721.5 226.0,725.2 234.0,727.2 239.5,728.4 251.5,730.2 263.0,732.4 278.5,734.7 301.5,737.2 319.0,738.4 333.5,739.0 349.0,739.3 363.0,739.5 377.0,739.4" fill="none" stroke="#ffa500" stroke-width="1.3" stroke-linejoin="round"/>
<path d="M76.0,739.0 78.0,738.3 79.5,737.2 81.5,735.3 83.5,732.8 85.5,729.6 87.5,725.8 89.0,722.3 90.5,718.2 92.5,710.8 95.0,698.6 97.5,683.9 102.5,651.1 105.0,638.3 107.0,631.0 108.5,626.9 110.0,623.5 111.5,620.8 112.5,619.5 113.5,618.7 114.5,618.5 115.5,618.6 116.5,619.1 118.5,620.8 128.0,633.0 130.0,636.1 134.0,643.7 136.5,647.9 142.0,656.2 149.5,666.9 152.0,669.8 160.5,677.9 164.5,682.2 167.5,686.1 173.5,695.1 176.0,698.2 180.5,702.4 186.0,706.4 192.5,710.2 203.5,715.8 207.5,717.5 211.5,718.8 223.0,721.5 235.0,724.9 243.0,726.8 251.5,728.5 264.0,730.2 275.0,732.1 285.0,733.6 307.5,736.2 326.5,737.8 351.0,738.9 377.0,739.4" fill="none" stroke="#ffa500" stroke-width="1.3" stroke-linejoin="round"/>
<path d="M76.0,739.1 79.0,739.4 81.0,739.1 83.0,738.1 84.5,736.7 86.5,734.2 88.5,730.9 90.5,726.7 92.5,721.3 94.5,713.8 97.0,700.5 99.5,683.6 103.5,653.5 106.0,638.7 108.0,630.7 110.0,625.0 111.0,622.9 112.0,621.2 113.0,620.2 114.0,619.9 115.5,620.3 117.5,622.3 125.5,634.3 127.5,637.9 130.5,644.4 133.0,649.3 143.5,667.1 146.0,670.5 153.0,678.2 156.5,682.6 159.0,686.3 164.5,695.7 167.0,699.2 171.0,703.4 176.5,707.8 186.0,713.8 193.0,717.5 197.5,719.2 207.0,721.8 217.5,725.3 228.5,728.1 242.0,730.4 251.0,732.2 258.5,733.5 268.0,734.9 280.5,736.4 290.0,737.4 298.5,738.1 312.5,738.8 326.0,739.2 354.5,739.5 365.5,739.2 377.0,738.6" fill="none" stroke="#ffa500" stroke-width="1.3" stroke-linejoin="round"/>
<path d="M76.0,739.3 78.5,739.3 80.0,738.8 81.5,737.8 83.0,735.9 85.0,732.1 86.5,728.4 88.0,723.7 89.5,717.6 91.5,707.0 93.5,693.7 102.0,628.7 106.5,595.9 108.0,587.5 109.5,581.5 111.0,577.8 111.5,577.1 112.5,576.4 113.5,576.7 114.5,577.9 115.5,579.7 117.0,583.7 119.0,590.8 125.5,619.7 128.5,631.4 132.0,642.0 135.0,649.8 137.0,654.4 139.0,658.0 141.5,661.5 144.5,665.0 149.0,669.4 151.0,672.0 153.0,675.7 159.5,690.3 161.0,693.1 163.0,696.1 166.0,699.8 170.0,704.0 173.5,707.1 178.0,710.4 185.0,715.0 192.0,719.2 198.5,722.5 205.0,725.5 211.0,727.7 218.0,729.8 227.5,732.3 235.0,733.9 253.0,736.7 269.0,737.9 300.0,738.9 345.0,739.5" fill="none" stroke="#00ff00" stroke-width="1.3" stroke-linejoin="round"/>
<path d="M76.0,739.4 78.0,738.9 79.5,738.0 81.0,736.4 82.5,734.0 84.5,729.7 86.0,725.6 87.5,720.4 88.5,716.1 90.5,705.6 92.5,692.8 101.0,631.3 106.0,597.1 107.5,589.5 109.0,584.1 110.5,580.7 111.0,580.1 112.0,579.5 113.0,579.7 114.5,581.5 115.5,583.5 117.0,587.5 119.0,594.5 125.0,619.7 128.5,632.9 132.0,643.1 135.5,651.7 137.5,656.0 139.5,659.4 142.0,662.8 145.0,666.1 150.5,671.3 152.5,673.9 154.5,677.5 161.0,691.3 162.5,693.9 164.5,696.8 167.5,700.3 171.0,703.9 174.5,706.9 178.5,709.8 185.0,714.0 193.5,718.9 200.0,722.1 207.5,725.4 213.5,727.6 220.5,729.6 230.5,732.2 238.0,733.7 258.0,736.7 272.5,737.8 300.0,738.8 345.0,739.5" fill="none" stroke="#00ff00" stroke-width="1.3" stroke-linejoin="round"/>
<path d="M76.0,739.2 78.0,738.4 79.5,737.1 81.0,735.1 82.5,732.5 84.0,729.3 85.5,725.4 88.0,716.4 90.0,706.5 92.0,694.6 96.0,668.4 101.0,633.8 106.5,598.8 108.0,591.9 109.5,586.9 110.5,584.6 111.5,583.1 112.0,582.7 113.0,582.5 114.0,583.0 115.5,584.9 116.5,586.9 118.0,590.8 120.0,597.4 126.5,622.9 130.0,635.2 133.5,644.7 139.0,656.9 141.0,660.3 144.0,664.1 147.5,667.7 153.0,672.5 155.0,674.9 157.0,678.2 164.0,692.1 165.5,694.6 167.5,697.3 170.5,700.7 174.0,704.1 177.5,706.9 181.0,709.4 187.5,713.5 196.5,718.4 203.5,721.8 211.0,724.9 217.0,727.1 224.0,729.2 234.0,731.6 242.5,733.4 265.0,736.7 277.5,737.7 304.0,738.7 345.0,739.3" fill="none" stroke="#00ff00" stroke-width="1.3" stroke-linejoin="round"/>
<path d="M76.0,739.4 78.5,739.1 80.0,738.4 81.5,737.0 83.0,734.8 85.0,730.8 86.5,726.9 88.0,722.0 89.0,718.0 91.0,707.8 93.0,695.3 101.5,634.5 106.5,600.8 108.0,593.4 109.5,588.2 111.0,585.1 111.5,584.6 112.5,584.1 113.5,584.6 114.5,585.8 115.5,587.6 117.0,591.3 119.0,598.1 125.5,625.1 128.5,636.1 132.0,646.1 135.5,654.6 137.5,658.8 139.5,662.1 142.0,665.4 145.0,668.6 150.0,673.2 152.0,675.8 154.0,679.4 160.0,692.1 162.0,695.6 164.0,698.4 167.0,701.8 170.5,705.2 174.0,708.2 178.5,711.4 185.5,715.7 193.0,719.9 199.5,723.1 206.5,726.0 212.5,728.1 219.5,730.2 229.0,732.5 236.5,734.0 255.5,736.8 270.5,737.9 299.0,738.9 345.0,739.5" fill="none" stroke="#00ff00" stroke-width="1.3" stroke-linejoin="round"/>
<path d="M76.0,738.5 77.5,737.5 79.0,735.8 80.5,733.5 82.0,730.6 84.5,724.3 87.0,715.2 89.0,705.4 91.0,693.8 100.0,635.7 105.5,602.2 107.0,595.4 108.5,590.5 109.5,588.1 110.5,586.5 111.0,586.0 112.0,585.5 113.0,585.8 114.5,587.4 116.0,590.1 117.5,593.8 119.5,600.1 126.0,624.5 129.5,636.3 133.0,645.6 139.0,658.5 141.0,661.7 144.0,665.4 147.5,668.9 153.5,673.9 155.5,676.2 158.0,680.2 164.5,692.6 166.0,695.0 168.0,697.7 171.0,701.0 174.5,704.3 178.0,707.1 181.5,709.5 188.0,713.5 197.5,718.5 204.5,721.7 212.5,725.0 219.0,727.3 225.5,729.1 235.5,731.5 244.5,733.3 251.0,734.4 268.0,736.7 279.5,737.6 305.5,738.6 345.0,739.3" fill="none" stroke="#00ff00" stroke-width="1.3" stroke-linejoin="round"/>
<path d="M76.0,739.4 78.0,739.0 79.5,738.2 81.0,736.6 82.5,734.5 84.5,730.6 86.0,726.9 88.5,718.4 90.5,708.9 93.0,694.1 101.5,637.0 106.5,605.1 108.0,597.9 109.5,592.8 110.5,590.3 111.5,588.7 112.0,588.3 113.0,588.0 114.0,588.4 115.5,590.3 116.5,592.3 118.0,596.1 120.0,602.8 126.0,626.2 129.5,638.5 133.0,648.0 136.5,656.0 138.5,660.1 140.5,663.4 143.5,667.1 146.5,670.1 151.5,674.4 154.0,677.3 156.0,680.7 162.5,693.6 164.0,696.0 166.0,698.8 169.0,702.1 172.5,705.4 176.0,708.3 180.0,711.0 186.5,715.0 195.0,719.5 201.5,722.6 209.0,725.7 215.0,727.8 222.0,729.8 232.0,732.2 240.0,733.8 261.0,736.8 274.5,737.8 301.5,738.8 345.0,739.4" fill="none" stroke="#00ff00" stroke-width="1.3" stroke-linejoin="round"/>
<path d="M76.0,738.4 77.5,737.4 79.0,735.7 80.5,733.4 82.0,730.5 84.5,724.5 87.0,715.6 89.0,706.2 91.0,695.1 95.0,671.1 100.0,639.4 104.5,612.6 106.0,604.6 107.5,598.4 109.0,593.8 110.0,591.7 111.0,590.2 111.5,589.7 112.5,589.4 113.5,589.7 115.0,591.3 116.5,593.9 118.0,597.4 120.0,603.4 127.0,628.6 130.5,639.7 134.0,648.4 138.0,656.9 140.0,660.7 142.5,664.4 145.5,667.8 149.0,671.0 154.5,675.4 156.5,677.5 159.0,681.3 166.0,694.0 167.5,696.3 169.5,698.9 172.0,701.5 175.5,704.7 179.0,707.5 182.5,709.9 189.0,713.7 198.5,718.5 206.0,721.9 214.0,725.1 220.5,727.3 227.0,729.1 236.0,731.2 246.0,733.3 253.5,734.4 271.0,736.7 281.5,737.5 307.0,738.6 345.0,739.2" fill="none" stroke="#00ff00" stroke-width="1.3" stroke-linejoin="round"/>
<path d="M76.0,739.4 78.5,739.3 80.0,738.9 81.5,737.8 83.0,736.0 85.0,732.5 86.5,729.0 88.0,724.6 89.0,721.0 91.0,711.6 93.5,696.5 102.0,636.7 106.5,606.9 108.0,599.8 109.5,594.8 111.0,591.9 111.5,591.5 112.5,591.2 113.5,591.8 114.5,593.1 115.5,595.1 117.0,599.1 119.0,606.1 125.5,632.6 128.0,641.4 131.5,651.1 134.5,658.3 136.5,662.4 138.5,665.7 141.0,668.8 144.0,672.0 148.5,676.1 150.5,678.6 152.5,682.1 158.5,694.5 160.5,697.9 162.5,700.6 166.0,704.4 169.5,707.6 173.0,710.4 177.5,713.4 184.5,717.6 191.0,721.1 197.5,724.2 204.0,726.9 210.0,728.9 217.5,731.0 226.5,733.1 234.0,734.5 251.5,737.0 268.0,738.1 300.5,739.0 345.0,739.5" fill="none" stroke="#00ff00" stroke-width="1.3" stroke-linejoin="round"/>
<path d="M76.0,739.4 78.0,738.9 79.5,737.9 81.0,736.2 82.5,733.8 84.5,729.6 86.0,725.6 88.5,716.4 90.5,706.2 93.0,690.5 101.5,630.1 106.5,596.4 108.0,588.7 109.5,583.2 110.5,580.6 111.5,578.8 112.0,578.2 113.0,577.8 114.0,578.2 115.5,580.1 116.5,582.1 118.0,586.1 120.0,593.0 126.5,619.8 130.0,632.5 133.5,642.4 137.0,650.8 139.0,655.1 141.0,658.5 144.0,662.4 147.0,665.6 152.0,670.1 154.5,673.2 156.5,676.7 163.0,690.3 164.5,693.0 166.5,695.9 169.5,699.5 173.0,703.0 176.5,706.0 180.5,709.0 187.0,713.1 196.0,718.3 202.5,721.5 210.0,724.8 216.0,727.0 223.0,729.1 233.0,731.7 241.0,733.4 262.5,736.6 275.5,737.7 302.0,738.7 345.0,739.4" fill="none" stroke="#00ff00" stroke-width="1.3" stroke-linejoin="round"/>
<path d="M76.0,739.4 77.5,739.1 79.0,738.1 80.5,736.1 82.0,733.0 84.0,727.9 85.5,723.2 87.0,717.3 88.0,712.2 90.0,699.3 92.0,683.5 96.0,649.3 102.5,590.3 105.0,570.5 106.5,561.5 108.0,555.2 109.5,551.6 110.0,550.9 111.0,550.3 111.5,550.4 112.5,551.1 113.5,552.4 114.5,554.3 116.5,559.4 119.0,567.6 121.0,575.4 123.0,584.2 128.0,610.2 130.5,621.7 135.5,641.3 137.5,648.4 139.5,654.7 141.5,659.8 146.0,669.7 151.5,684.1 155.0,691.5 158.0,696.9 161.0,701.4 164.5,705.8 168.5,710.0 174.0,715.1 179.5,719.6 184.0,722.7 189.0,725.5 194.5,728.1 200.0,730.2 207.5,732.4 215.5,734.4 228.0,736.6 240.0,737.7 256.5,738.6 268.5,739.0 285.5,739.4 300.0,739.5" fill="none" stroke="#0000ff" stroke-width="1.3" stroke-linejoin="round"/>
<path d="M76.0,739.4 78.0,739.2 79.5,738.5 80.5,737.5 82.0,735.2 84.0,730.9 86.0,725.5 87.5,720.4 88.5,716.1 90.5,704.8 93.0,686.7 97.0,654.8 104.0,595.6 106.0,580.9 107.5,572.2 109.0,566.1 110.5,562.4 111.5,561.2 112.5,561.0 113.0,561.1 114.0,562.0 115.0,563.4 116.0,565.2 118.0,570.2 120.5,578.0 122.5,585.3 124.5,593.7 129.5,618.0 132.0,628.7 137.0,646.9 139.0,653.6 141.0,659.4 143.0,664.2 147.5,673.5 153.0,686.9 156.5,693.9 159.5,699.0 162.5,703.2 166.0,707.4 169.5,710.9 174.5,715.4 180.5,720.1 185.0,723.1 190.0,725.8 195.5,728.3 201.0,730.3 208.0,732.4 216.5,734.5 229.0,736.6 240.0,737.6 265.5,738.9 285.0,739.4 300.0,739.5" fill="none" stroke="#0000ff" stroke-width="1.3" stroke-linejoin="round"/>
<path d="M76.0,739.0 77.5,738.2 78.5,737.1 80.0,734.7 81.5,731.6 84.5,723.9 86.0,718.7 87.0,714.3 89.0,703.2 91.5,685.9 95.5,656.0 103.0,596.5 105.0,582.6 107.0,571.9 108.5,566.5 110.0,563.2 111.0,562.1 112.0,561.9 113.0,562.3 114.0,563.3 116.0,566.7 118.0,571.4 120.5,578.8 124.5,593.3 130.0,618.3 132.5,628.4 137.5,645.7 140.0,653.6 142.0,659.1 144.5,664.8 149.5,674.4 155.0,687.1 158.5,693.8 161.5,698.6 164.0,702.0 167.0,705.6 171.0,709.7 176.0,714.0 182.5,718.9 187.0,722.0 192.0,724.7 197.5,727.3 203.0,729.4 209.5,731.4 217.5,733.4 224.0,734.8 230.0,735.8 237.0,736.8 243.0,737.4 270.5,738.8 300.0,739.4" fill="none" stroke="#0000ff" stroke-width="1.3" stroke-linejoin="round"/>
<path d="M76.0,739.4 78.0,739.0 79.5,738.1 80.5,736.9 82.0,734.3 84.0,729.9 86.0,724.5 87.5,719.2 88.5,714.7 90.5,703.3 93.0,685.4 97.0,654.5 104.0,597.3 106.0,583.2 107.5,574.9 109.0,568.9 110.5,565.2 111.5,564.0 112.5,563.7 113.5,564.1 114.5,565.1 116.5,568.6 118.5,573.5 121.0,581.2 124.5,594.4 130.0,620.1 132.5,630.3 137.5,648.0 141.5,660.2 144.0,666.0 148.5,674.8 154.0,687.9 157.5,694.6 160.5,699.5 163.5,703.6 167.0,707.6 170.5,711.1 175.5,715.4 182.0,720.4 186.5,723.3 191.5,725.9 197.0,728.4 202.5,730.3 209.0,732.2 217.5,734.3 223.0,735.4 230.0,736.5 241.0,737.5 267.0,738.8 300.0,739.5" fill="none" stroke="#0000ff" stroke-width="1.3" stroke-linejoin="round"/>
<path d="M76.0,738.7 77.5,737.5 79.0,735.5 80.5,732.7 82.5,728.2 85.0,721.2 87.0,713.0 89.5,698.7 93.0,674.5 103.0,599.7 105.0,586.3 107.0,575.9 108.5,570.4 110.0,567.0 111.0,565.8 112.0,565.3 113.0,565.6 114.0,566.3 116.0,569.2 118.5,574.7 121.0,581.7 123.5,589.9 125.5,597.4 130.5,619.3 133.5,630.9 139.0,648.9 141.5,656.3 143.5,661.5 146.0,666.8 151.0,675.9 156.5,688.0 160.0,694.4 163.0,699.0 165.5,702.3 168.5,705.8 172.5,709.8 177.0,713.6 183.5,718.4 188.5,721.7 193.0,724.2 198.5,726.8 204.0,728.9 210.0,730.8 217.5,732.8 230.5,735.4 238.5,736.6 245.0,737.2 273.5,738.7 300.0,739.4" fill="none" stroke="#0000ff" stroke-width="1.3" stroke-linejoin="round"/>
<path d="M76.0,739.4 78.0,739.1 79.5,738.3 80.5,737.2 82.0,734.8 84.0,730.4 86.0,724.9 87.5,719.6 88.5,715.0 90.5,703.4 93.0,685.2 96.5,657.8 103.5,599.8 105.5,585.4 107.0,577.0 108.5,571.1 110.0,567.6 110.5,567.0 111.5,566.4 112.0,566.4 113.0,567.0 114.0,568.1 115.0,569.8 117.0,574.4 119.5,581.8 121.5,588.9 123.5,596.9 128.5,620.7 131.5,633.2 137.0,652.6 140.5,662.9 142.5,667.4 146.5,675.4 152.0,688.6 156.0,696.3 158.5,700.3 161.5,704.5 165.0,708.5 169.0,712.4 174.5,717.1 180.0,721.2 184.5,724.1 189.5,726.7 195.0,729.0 200.5,730.9 207.5,732.9 215.5,734.7 228.0,736.8 239.5,737.8 267.0,739.0 285.5,739.4 300.0,739.5" fill="none" stroke="#0000ff" stroke-width="1.3" stroke-linejoin="round"/>
<path d="M76.0,738.5 77.5,737.3 79.0,735.2 82.5,728.1 85.0,721.2 87.0,713.1 89.5,699.2 93.0,675.8 103.0,603.5 105.5,587.3 107.5,577.5 109.0,572.5 110.5,569.3 111.5,568.3 112.5,567.9 113.5,568.2 114.5,569.0 116.5,571.8 119.0,577.1 121.5,583.8 124.0,591.7 126.0,598.9 131.5,622.1 134.5,633.1 140.0,650.5 142.5,657.6 144.5,662.6 147.0,667.8 152.0,676.5 157.0,687.3 161.0,694.5 164.0,699.1 166.5,702.4 169.5,705.8 173.0,709.3 177.5,713.1 182.5,716.8 188.5,720.8 193.5,723.7 199.0,726.3 205.0,728.7 211.0,730.6 217.5,732.3 232.0,735.3 240.5,736.5 247.0,737.2 275.5,738.7 300.0,739.3" fill="none" stroke="#0000ff" stroke-width="1.3" stroke-linejoin="round"/>
<path d="M76.0,739.4 77.5,738.9 79.0,737.8 80.5,735.8 82.0,732.9 84.0,728.4 85.5,724.3 87.0,719.1 88.0,714.7 90.0,703.6 92.5,686.5 96.5,657.2 103.5,602.9 105.5,589.2 107.0,581.0 108.5,575.0 110.0,571.2 111.0,569.8 112.0,569.2 113.0,569.4 114.0,570.2 116.0,573.2 118.0,577.7 120.5,584.7 124.5,598.8 130.0,623.2 133.0,634.8 138.0,651.5 142.0,662.9 144.5,668.4 149.0,676.8 154.5,689.2 158.0,695.7 161.0,700.4 164.0,704.3 167.0,707.7 171.0,711.6 175.5,715.3 182.0,720.1 186.5,723.0 191.5,725.7 197.0,728.1 202.5,730.1 209.0,732.0 217.5,734.0 223.5,735.2 230.5,736.3 236.5,737.1 242.0,737.5 269.0,738.8 300.0,739.5" fill="none" stroke="#0000ff" stroke-width="1.3" stroke-linejoin="round"/>
<path d="M76.0,739.0 77.5,738.0 79.0,736.2 80.5,733.6 82.0,730.4 83.5,726.9 85.0,722.6 87.0,714.9 89.0,704.2 92.0,684.2 95.5,659.4 103.0,603.1 105.0,589.9 107.0,579.7 108.5,574.4 110.0,571.2 111.0,570.2 112.0,569.9 113.0,570.2 114.0,571.1 116.0,574.2 118.5,579.8 121.0,586.9 125.0,600.9 130.0,622.6 133.0,634.1 138.0,650.4 140.5,657.8 142.5,663.0 145.0,668.4 150.0,677.4 155.5,689.5 159.0,695.7 162.0,700.3 164.5,703.6 167.5,707.0 171.5,710.8 176.0,714.6 182.5,719.3 187.5,722.6 192.0,725.0 198.0,727.7 203.5,729.7 210.0,731.6 217.5,733.4 230.0,735.8 237.5,736.8 243.5,737.4 271.5,738.8 300.0,739.4" fill="none" stroke="#0000ff" stroke-width="1.3" stroke-linejoin="round"/>
<path d="M76.0,739.5 79.5,739.2 82.5,738.5 86.5,736.7 89.5,734.8 91.5,732.9 97.0,727.0 104.5,716.8 108.0,712.4 109.5,710.9 111.0,709.8 114.5,707.9 120.0,705.8 124.5,704.4 136.5,701.5 155.0,696.7 165.5,692.5 183.5,685.8 194.5,682.2 199.0,681.0 207.0,679.3 210.5,678.9 214.5,678.7 221.5,678.8 227.5,679.7 233.0,681.1 238.5,683.4 242.0,685.3 249.5,690.2 260.0,696.8 277.5,709.5 284.5,713.9 290.5,717.1 297.0,720.1 319.5,729.5 325.5,731.5 330.5,732.9 337.0,734.3 345.0,735.7 360.0,737.5 368.0,738.1 377.0,738.4" fill="none" stroke="#ff0000" stroke-width="1.3" stroke-linejoin="round"/>
<path d="M76.0,739.5 79.5,739.1 82.0,738.5 86.0,736.6 89.0,734.6 91.0,732.6 96.0,727.1 103.5,716.7 107.0,712.3 109.5,710.2 113.0,708.2 118.5,706.1 123.0,704.6 134.0,702.0 152.0,697.2 162.5,692.9 180.0,686.3 190.5,682.8 195.5,681.5 203.0,679.8 206.5,679.4 210.0,679.3 217.0,679.4 222.0,680.2 227.5,681.6 233.0,683.8 236.5,685.7 244.0,690.8 253.5,696.8 271.5,710.1 278.5,714.5 284.5,717.7 291.5,721.0 309.0,728.5 313.5,730.2 320.0,732.3 326.0,733.8 334.5,735.4 343.5,736.7 350.5,737.5 358.5,738.1 368.5,738.4 377.0,738.5" fill="none" stroke="#ff0000" stroke-width="1.3" stroke-linejoin="round"/>
<path d="M76.0,739.5 80.0,739.2 83.0,738.5 87.5,736.6 90.5,734.7 92.5,732.9 98.0,727.2 105.5,717.5 109.5,712.8 112.5,710.3 116.0,708.6 122.0,706.4 126.5,705.0 138.5,702.3 157.5,697.6 169.0,693.2 187.0,686.9 198.0,683.4 203.0,682.2 211.0,680.5 214.5,680.1 218.5,679.9 226.0,680.0 232.0,680.8 237.5,682.1 243.5,684.3 247.5,686.4 255.0,691.1 265.5,697.4 284.0,710.1 291.0,714.3 297.0,717.4 303.5,720.3 326.0,729.3 331.5,731.1 336.5,732.6 347.5,734.8 355.5,736.1 364.0,737.1 377.0,738.1" fill="none" stroke="#ff0000" stroke-width="1.3" stroke-linejoin="round"/>
<path d="M76.0,739.4 79.0,739.1 81.5,738.4 85.5,736.5 88.5,734.5 95.5,727.2 103.0,717.3 106.5,713.0 108.0,711.6 109.5,710.6 113.0,708.8 118.5,706.7 123.0,705.3 134.5,702.6 152.5,698.1 163.5,693.7 181.0,687.4 191.5,684.0 196.5,682.7 204.0,681.1 207.5,680.6 211.5,680.5 219.0,680.6 224.5,681.4 230.0,682.8 235.5,685.0 239.0,686.9 246.5,691.7 256.5,697.8 274.5,710.6 281.5,714.9 287.5,718.0 294.0,721.0 316.5,730.1 322.5,732.0 328.0,733.4 335.0,734.8 343.5,736.2 352.0,737.2 358.5,737.8 367.0,738.2 377.0,738.5" fill="none" stroke="#ff0000" stroke-width="1.3" stroke-linejoin="round"/>
<path d="M76.0,739.5 80.0,739.3 83.0,738.8 87.5,737.0 91.0,735.0 93.0,733.2 98.5,727.6 106.5,717.4 110.0,713.3 113.0,710.9 116.5,709.2 122.5,707.0 127.0,705.6 138.5,703.1 157.5,698.5 169.0,694.1 187.0,687.8 197.5,684.6 202.5,683.3 210.5,681.7 214.0,681.2 218.0,681.1 225.5,681.2 231.5,682.0 237.0,683.3 243.0,685.5 246.5,687.4 254.0,692.0 264.5,698.2 283.0,710.8 289.5,714.7 295.5,717.7 302.0,720.6 324.5,729.5 330.0,731.3 335.0,732.7 340.5,734.0 347.0,735.1 363.0,737.3 377.0,738.2" fill="none" stroke="#ff0000" stroke-width="1.3" stroke-linejoin="round"/>
<path d="M76.0,739.5 79.5,739.3 82.5,738.6 86.5,736.9 89.5,735.0 91.5,733.1 96.5,727.8 104.5,717.0 107.5,713.4 110.0,711.2 113.5,709.3 118.5,707.4 123.0,705.9 134.5,703.2 152.0,698.7 163.0,694.3 180.0,688.1 190.0,684.8 195.0,683.5 202.5,681.9 206.0,681.5 209.5,681.4 216.5,681.5 222.0,682.3 227.0,683.6 232.5,685.8 236.0,687.7 243.0,692.3 253.0,698.5 270.0,710.8 277.0,715.1 283.0,718.3 290.0,721.6 307.5,728.9 312.5,730.7 318.5,732.6 325.0,734.1 334.0,735.7 343.5,737.0 350.5,737.7 359.0,738.2 368.5,738.5 377.0,738.5" fill="none" stroke="#ff0000" stroke-width="1.3" stroke-linejoin="round"/>
<path d="M76.0,739.4 79.5,739.1 82.0,738.4 86.0,736.7 89.0,734.9 91.5,732.8 97.0,727.3 104.5,718.0 108.5,713.5 111.5,711.2 115.0,709.6 121.0,707.5 125.5,706.2 137.5,703.6 157.0,699.0 168.0,694.9 187.0,688.6 198.0,685.3 203.0,684.1 211.0,682.5 214.5,682.1 218.5,682.0 226.0,682.1 232.0,682.8 237.5,684.1 244.0,686.4 247.5,688.2 255.0,692.7 266.0,698.9 284.5,711.1 291.5,715.1 297.5,718.1 304.0,720.9 326.5,729.5 337.0,732.7 347.5,734.8 355.5,736.0 364.0,737.1 377.0,738.0" fill="none" stroke="#ff0000" stroke-width="1.3" stroke-linejoin="round"/>
<path d="M76.0,739.5 80.0,739.3 82.5,738.7 87.0,736.9 90.0,735.1 92.5,732.9 97.5,727.8 105.5,717.6 109.0,713.6 111.5,711.6 115.5,709.6 121.0,707.6 125.5,706.3 137.0,703.8 155.5,699.2 166.5,695.1 184.5,688.8 195.0,685.6 199.5,684.5 207.5,682.8 211.0,682.4 215.0,682.3 222.0,682.4 228.0,683.1 233.0,684.3 239.0,686.6 242.5,688.4 250.0,693.1 260.5,699.2 278.0,711.2 285.0,715.3 291.0,718.3 297.5,721.2 320.0,730.1 326.0,732.0 331.0,733.3 337.5,734.6 345.5,735.9 360.0,737.6 368.0,738.1 377.0,738.4" fill="none" stroke="#ff0000" stroke-width="1.3" stroke-linejoin="round"/>
<path d="M76.0,739.5 79.5,739.3 82.5,738.6 87.0,736.5 90.0,734.6 92.0,732.7 97.5,726.7 104.5,717.2 108.5,712.1 110.0,710.7 111.5,709.5 115.0,707.7 120.5,705.5 125.0,704.1 137.5,701.1 156.0,696.3 167.0,691.8 185.0,685.2 195.5,681.7 200.0,680.5 208.0,678.8 211.5,678.3 215.5,678.1 223.0,678.2 228.5,679.0 234.0,680.3 240.0,682.7 244.0,684.9 251.5,689.8 261.5,696.0 280.0,709.4 287.0,713.8 293.0,717.0 299.5,720.0 322.0,729.4 328.0,731.4 333.0,732.8 339.0,734.1 346.5,735.4 361.5,737.4 369.5,738.0 377.0,738.3" fill="none" stroke="#ff0000" stroke-width="1.3" stroke-linejoin="round"/>
<path d="M76.0,739.4 80.0,738.7 85.0,737.0 88.5,735.0 91.0,732.8 93.5,729.5 96.5,724.5 99.0,719.9 103.5,710.7 106.5,705.7 109.0,702.4 111.5,699.5 114.0,697.2 117.0,695.1 123.5,691.3 129.5,688.2 141.0,683.6 152.5,678.5 158.5,676.2 164.0,674.3 171.0,672.5 175.0,671.8 180.5,671.5 183.5,671.6 187.5,672.1 193.0,673.4 197.0,674.9 206.0,679.6 209.5,681.8 212.5,684.1 220.0,691.3 226.5,696.7 241.5,708.0 248.5,713.0 255.5,717.5 261.0,720.5 268.0,723.7 275.0,726.3 289.5,731.1 296.5,733.2 304.5,734.8 314.5,736.4 327.5,737.7 339.0,738.5 355.0,739.1 377.0,739.5" fill="none" stroke="#ff0000" stroke-width="1.3" stroke-linejoin="round"/>
<path d="M76.0,739.5 80.0,739.0 85.0,737.4 88.5,735.7 91.5,733.4 94.0,730.4 97.0,725.6 100.0,720.2 104.5,711.2 108.0,705.5 110.5,702.3 113.0,699.6 115.5,697.5 118.5,695.4 125.0,691.7 130.5,689.0 142.0,684.4 153.5,679.4 160.0,676.9 165.5,675.1 172.5,673.4 176.5,672.8 181.5,672.6 184.5,672.7 188.5,673.1 194.0,674.4 198.0,675.9 207.0,680.5 210.5,682.7 213.5,684.9 221.0,692.1 227.5,697.3 242.5,708.4 249.5,713.4 256.5,717.8 262.0,720.8 269.0,723.9 276.0,726.5 290.5,731.3 297.5,733.3 305.5,734.9 315.0,736.3 328.0,737.7 339.5,738.5 355.0,739.1 377.0,739.5" fill="none" stroke="#ff0000" stroke-width="1.3" stroke-linejoin="round"/>
<path d="M488.5,739.5 516.0,739.3 525.5,739.0 532.0,738.5 538.5,737.5 543.0,736.3 547.5,734.4 555.5,730.1 558.0,729.2 560.5,728.6 564.5,728.3 574.0,728.4 583.0,727.1 588.5,726.7 592.0,726.6 598.0,727.2 601.0,727.2 606.5,726.6 611.0,725.8 614.0,724.8 616.5,723.7 621.5,721.1 624.5,719.1 636.0,708.0 639.0,704.6 643.0,699.4 644.5,697.9 646.5,696.3 649.0,694.8 652.0,693.7 654.0,693.3 657.5,693.1 659.5,693.3 661.0,693.7 663.5,694.9 665.0,696.1 678.0,710.8 691.0,727.0 694.5,730.4 696.5,732.0 698.5,733.3 701.5,734.5 705.0,735.6 710.0,736.7 715.0,737.4 726.5,738.5 745.0,739.2" fill="none" stroke="#00ff00" stroke-width="1.3" stroke-linejoin="round"/>
<path d="M545.0,739.5 556.5,739.4 566.5,739.1 573.0,738.2 578.0,736.9 581.0,735.5 582.5,734.3 584.0,732.7 586.5,728.9 589.0,723.2 591.5,714.3 594.0,702.9 595.5,693.8 597.0,682.1 599.0,662.3 601.5,634.2 604.0,602.1 606.5,565.8 607.5,556.6 608.5,550.6 609.0,548.8 609.5,547.8 610.0,547.6 611.0,548.4 612.0,550.4 613.5,555.1 614.5,559.1 617.0,571.4 620.0,590.0 622.0,598.5 625.0,608.7 629.0,620.3 634.0,637.2 635.5,641.5 637.0,644.8 639.5,649.4 646.5,661.2 659.5,687.5 661.5,691.2 666.0,698.3 670.0,705.3 673.5,710.8 678.5,717.6 683.0,722.9 686.0,725.8 689.0,728.3 691.5,730.1 695.5,732.5 698.0,733.8 700.0,734.6 706.0,735.9 713.5,736.7 738.0,738.4 744.0,738.5 768.5,738.0 778.0,738.4 789.5,739.2" fill="none" stroke="#0000ff" stroke-width="1.3" stroke-linejoin="round"/>
<path d="M488.5,739.5 519.5,739.2 526.0,739.0 530.5,738.6 535.0,737.8 540.0,736.5 546.0,734.4 552.5,731.8 555.5,730.9 560.0,730.0 571.0,728.5 580.0,726.9 583.5,726.8 587.5,727.0 591.5,727.4 597.0,728.4 599.5,728.5 604.5,728.3 609.0,727.5 612.0,726.4 615.0,724.7 632.0,711.8 637.0,707.1 642.5,700.4 645.5,697.9 648.0,696.5 651.0,695.4 653.0,695.0 657.0,694.8 659.0,695.0 661.0,695.7 663.0,696.8 664.5,698.0 677.5,712.3 690.0,727.3 693.5,730.7 695.5,732.2 697.5,733.4 700.5,734.7 704.0,735.7 709.0,736.8 714.5,737.6 726.0,738.5 745.0,739.2" fill="none" stroke="#00ff00" stroke-width="1.3" stroke-linejoin="round"/>
<path d="M545.0,739.5 557.0,739.4 567.0,739.1 573.5,738.2 578.5,736.9 581.5,735.4 583.0,734.2 584.5,732.6 587.0,728.8 589.5,723.1 592.0,714.1 594.5,702.6 596.0,693.3 597.5,681.5 599.5,661.5 602.0,633.2 604.5,600.7 607.0,564.1 608.0,554.8 609.0,548.7 609.5,546.9 610.0,545.9 610.5,545.7 611.5,546.6 612.5,548.8 614.5,556.0 617.0,568.5 620.0,588.0 622.0,597.1 624.5,606.1 629.0,620.1 633.5,636.2 635.0,640.6 636.5,644.0 639.0,648.9 645.5,660.4 658.0,686.9 660.0,690.8 664.0,697.5 668.5,705.7 672.0,711.3 677.0,718.4 681.0,723.2 684.0,726.1 687.0,728.7 689.5,730.5 693.5,733.0 695.5,734.0 697.5,734.8 703.5,736.0 710.5,736.8 733.5,738.4 763.0,738.0 773.0,738.4 786.0,739.5 789.5,739.5" fill="none" stroke="#0000ff" stroke-width="1.3" stroke-linejoin="round"/>
<path d="M488.5,739.5 521.0,739.2 528.0,738.9 532.5,738.5 539.0,737.3 544.5,735.9 548.5,734.6 557.0,731.4 566.0,728.6 571.0,727.5 576.5,726.7 579.5,726.6 582.5,726.9 594.5,729.8 597.5,730.3 601.5,730.3 605.5,729.6 609.0,728.5 612.5,726.7 614.5,725.3 619.5,721.2 622.0,719.4 630.0,714.8 632.5,713.1 637.5,708.8 643.0,702.4 644.5,701.1 646.5,699.6 649.0,698.4 652.0,697.4 654.0,697.1 657.5,697.0 659.5,697.1 661.5,697.7 663.5,698.8 665.0,699.9 678.0,713.5 688.0,725.1 691.0,728.3 695.0,731.8 698.5,733.9 701.5,735.0 705.0,736.0 710.0,737.0 715.0,737.6 726.5,738.6 745.0,739.2" fill="none" stroke="#00ff00" stroke-width="1.3" stroke-linejoin="round"/>
<path d="M545.0,739.5 556.5,739.4 566.5,739.1 573.5,738.0 578.0,736.8 579.5,736.1 581.0,735.2 582.5,733.8 584.0,732.1 586.5,728.1 588.0,724.7 589.0,721.9 591.5,712.5 593.5,703.3 595.0,694.2 596.5,682.7 598.5,663.1 601.0,635.3 603.5,603.5 606.0,567.6 607.0,558.4 608.0,552.5 608.5,550.7 609.0,549.7 609.5,549.5 610.5,550.3 611.5,552.0 613.0,556.3 614.0,559.9 617.0,573.7 620.0,591.4 622.0,599.5 625.0,609.2 629.5,621.6 635.0,639.1 636.5,642.9 638.0,645.9 641.0,651.1 648.0,662.3 661.5,688.0 663.5,691.5 668.0,698.2 672.5,705.6 676.0,710.8 680.5,716.6 685.0,721.8 688.0,724.8 691.5,727.6 694.5,729.8 698.0,731.9 701.0,733.5 703.5,734.5 709.5,735.8 718.0,736.8 744.0,738.5 751.0,738.5 773.5,738.0 789.5,738.6" fill="none" stroke="#0000ff" stroke-width="1.3" stroke-linejoin="round"/>
<path d="M488.5,739.5 521.0,739.2 528.0,739.0 533.0,738.5 539.0,737.5 543.5,736.5 548.5,734.9 555.5,732.0 559.5,730.6 563.5,729.6 568.0,729.0 575.5,728.6 582.5,727.9 588.0,727.7 593.0,728.0 599.5,729.3 603.0,729.7 607.0,729.7 610.5,729.3 613.0,728.4 615.5,727.1 623.5,720.8 633.5,713.9 638.0,710.0 643.5,703.8 646.5,701.3 649.0,700.0 652.0,698.8 654.5,698.4 658.0,698.2 660.0,698.3 661.5,698.7 664.0,699.8 665.5,700.9 678.5,713.9 691.5,728.3 695.0,731.4 697.0,732.8 699.0,733.9 702.0,735.1 705.5,736.0 710.5,737.0 715.5,737.7 727.0,738.6 745.0,739.2" fill="none" stroke="#00ff00" stroke-width="1.3" stroke-linejoin="round"/>
<path d="M545.0,739.5 556.5,739.4 566.5,739.1 573.5,738.0 578.0,736.8 579.5,736.1 581.0,735.2 582.5,733.9 584.0,732.2 586.5,728.2 588.0,724.8 589.0,722.1 591.0,714.8 593.5,703.5 595.0,694.5 596.5,683.0 598.5,663.3 601.0,635.1 603.5,602.8 605.5,572.1 606.5,560.0 608.0,548.8 609.0,545.2 609.5,544.7 610.0,544.9 610.5,545.4 611.5,547.2 613.0,551.9 614.0,556.0 616.5,568.6 619.5,587.8 621.5,596.6 624.0,605.5 628.5,619.2 633.0,635.0 634.5,639.6 636.0,643.0 638.0,646.9 645.5,660.1 660.0,690.1 664.5,697.6 668.5,704.8 672.0,710.4 677.0,717.5 681.5,722.9 684.5,725.9 687.5,728.4 690.0,730.2 694.0,732.7 698.0,734.6 704.0,735.9 711.5,736.7 735.0,738.4 741.0,738.5 758.0,738.0 766.0,738.0 775.5,738.4 789.5,739.5" fill="none" stroke="#0000ff" stroke-width="1.3" stroke-linejoin="round"/>
<path d="M488.5,739.5 518.5,739.2 526.0,739.0 531.5,738.5 536.5,737.7 540.5,736.8 552.0,733.1 554.5,732.4 568.5,730.7 572.5,729.8 579.0,727.9 582.0,727.5 584.5,727.4 587.5,727.6 596.0,729.1 599.0,729.4 603.0,729.2 608.0,728.3 613.5,726.4 622.0,722.5 625.0,720.8 629.5,717.3 634.5,713.1 637.5,710.3 642.0,705.3 643.5,704.0 645.5,702.6 648.0,701.4 651.0,700.4 653.0,700.1 656.5,699.9 658.5,700.0 660.0,700.4 662.5,701.4 664.0,702.4 677.0,715.0 690.0,728.8 693.5,731.7 697.5,734.2 700.5,735.3 704.5,736.2 709.5,737.2 714.5,737.8 726.0,738.6 745.0,739.2" fill="none" stroke="#00ff00" stroke-width="1.3" stroke-linejoin="round"/>
<path d="M545.0,739.5 557.0,739.4 567.0,739.1 573.5,738.2 578.5,736.9 581.5,735.4 583.0,734.2 584.5,732.5 587.0,728.7 589.5,722.9 591.5,715.9 594.0,705.0 595.5,696.5 597.0,685.5 599.0,666.6 601.5,639.3 604.0,608.2 606.0,578.4 607.0,566.3 608.5,554.9 609.5,551.1 610.0,550.5 610.5,550.5 611.0,550.9 612.0,552.2 614.0,557.5 617.0,569.5 619.0,579.8 621.0,591.6 622.5,597.9 626.0,609.1 631.0,622.5 636.5,639.5 638.0,643.2 640.0,647.1 642.5,651.2 650.0,662.8 663.5,687.7 666.0,691.9 670.5,698.4 675.0,705.6 678.5,710.6 682.5,715.7 687.5,721.4 690.0,723.9 693.5,726.8 696.5,729.0 699.5,730.9 703.5,733.0 706.0,734.2 708.5,734.9 712.5,735.7 721.5,736.7 749.0,738.5 756.5,738.5 777.5,738.0 789.5,738.3" fill="none" stroke="#0000ff" stroke-width="1.3" stroke-linejoin="round"/>
<path d="M488.5,739.5 519.5,739.3 526.5,739.0 532.0,738.5 541.0,736.5 556.5,731.8 579.0,726.7 582.0,726.2 585.5,726.1 589.5,726.4 593.0,726.9 599.0,728.1 601.5,728.4 606.5,728.4 611.0,727.8 614.0,726.7 617.0,725.0 633.5,711.7 638.5,707.0 644.0,700.3 647.0,697.7 649.5,696.2 652.5,695.0 654.5,694.6 658.5,694.4 660.5,694.6 662.5,695.2 664.5,696.2 666.0,697.5 679.0,711.8 689.0,724.1 692.0,727.5 696.0,731.2 699.5,733.5 702.5,734.7 706.0,735.7 711.0,736.8 716.0,737.5 727.0,738.5 745.0,739.2" fill="none" stroke="#00ff00" stroke-width="1.3" stroke-linejoin="round"/>
<path d="M545.0,739.5 557.0,739.4 567.5,739.1 574.0,738.2 577.0,737.5 579.0,736.9 582.0,735.3 583.5,734.0 585.0,732.4 587.5,728.5 589.0,725.2 590.0,722.6 592.0,715.4 594.5,704.3 596.0,695.6 597.5,684.4 599.5,665.1 602.0,637.3 604.5,605.5 606.5,575.2 607.5,562.8 609.0,551.2 610.0,547.3 610.5,546.7 611.0,546.7 611.5,547.1 612.5,548.6 614.5,554.6 617.5,568.1 621.0,589.2 622.5,595.8 626.0,607.7 630.5,620.7 635.5,637.4 637.0,641.4 638.5,644.6 641.0,649.1 648.5,661.7 663.0,690.3 668.0,698.2 672.0,705.1 675.5,710.5 680.0,716.6 684.5,722.0 687.5,725.0 691.0,727.9 694.0,730.0 697.5,732.2 700.0,733.5 702.5,734.6 708.5,735.9 716.5,736.7 741.5,738.4 748.0,738.5 771.0,738.0 779.5,738.2 789.5,738.8" fill="none" stroke="#0000ff" stroke-width="1.3" stroke-linejoin="round"/>
<path d="M488.5,739.5 521.0,739.2 528.0,738.9 533.0,738.4 540.5,737.2 546.0,735.8 549.5,734.6 556.0,731.7 560.0,730.1 563.5,729.0 567.0,728.5 570.5,728.4 584.0,729.1 592.5,729.1 599.5,729.4 604.5,729.1 609.0,728.4 611.5,727.6 614.0,726.4 621.5,721.3 629.0,716.9 632.0,715.0 637.5,710.4 643.5,703.8 646.5,701.6 649.0,700.3 652.0,699.3 654.0,699.0 657.5,698.9 659.5,699.0 661.5,699.5 663.5,700.5 665.0,701.5 678.0,714.4 691.0,728.6 695.0,732.0 698.5,734.1 701.5,735.2 705.0,736.1 710.0,737.0 715.0,737.7 726.5,738.6 745.0,739.2" fill="none" stroke="#00ff00" stroke-width="1.3" stroke-linejoin="round"/>
<path d="M545.0,739.5 556.0,739.4 566.0,739.1 573.0,738.1 577.5,736.8 580.5,735.3 582.0,734.0 583.5,732.3 586.0,728.4 587.5,725.1 588.5,722.4 590.5,715.3 593.0,704.2 594.5,695.4 596.0,684.1 598.0,664.8 600.5,637.1 603.0,605.5 605.0,575.4 606.0,563.6 607.5,552.5 608.5,549.0 609.0,548.6 609.5,548.7 610.0,549.3 611.0,551.2 613.0,558.3 615.5,570.8 618.5,590.3 620.5,599.4 623.0,608.5 627.0,620.8 631.5,636.9 633.0,641.6 636.0,648.1 643.5,661.7 657.5,691.2 661.5,698.0 666.0,706.2 669.5,711.9 674.5,718.9 678.5,723.7 681.0,726.2 684.0,728.8 686.5,730.6 690.5,733.1 692.5,734.1 694.5,734.9 700.5,736.1 707.0,736.8 729.5,738.4 735.0,738.5 751.5,738.0 758.5,738.0 768.0,738.4 781.0,739.5 789.5,739.5" fill="none" stroke="#0000ff" stroke-width="1.3" stroke-linejoin="round"/>
<path d="M488.5,739.5 518.0,739.2 525.5,738.9 531.0,738.4 538.5,737.1 543.5,735.9 547.5,734.7 554.5,731.8 559.0,730.2 563.0,729.1 567.0,728.6 591.0,727.1 608.0,728.0 610.5,727.9 612.5,727.5 614.5,726.8 616.5,725.8 620.5,722.9 627.5,716.1 636.0,708.7 638.0,706.5 641.5,702.2 644.5,699.6 647.0,698.2 650.5,696.8 652.5,696.5 656.5,696.3 658.5,696.5 660.5,697.2 662.5,698.2 664.0,699.4 677.0,713.2 689.5,727.7 693.0,731.0 695.0,732.4 697.0,733.6 700.0,734.8 703.5,735.8 708.5,736.8 714.0,737.6 726.0,738.6 745.0,739.2" fill="none" stroke="#00ff00" stroke-width="1.3" stroke-linejoin="round"/>
<path d="M545.0,739.5 557.0,739.4 566.0,739.0 574.0,737.7 578.0,736.3 579.5,735.5 581.5,733.8 583.0,732.0 584.5,729.8 587.0,724.6 589.0,718.3 591.5,707.9 593.5,697.1 595.5,682.1 597.0,667.4 599.5,638.9 601.5,610.5 603.0,584.3 605.0,543.7 606.0,527.7 607.5,511.5 608.0,508.7 608.5,507.4 609.0,507.3 609.5,508.2 610.0,510.2 611.0,516.9 616.0,567.9 618.0,585.2 619.0,591.6 620.5,598.2 622.5,605.4 628.0,621.9 633.0,638.8 634.5,642.6 636.0,645.7 639.5,652.0 645.0,661.2 659.5,690.3 664.5,698.3 670.5,708.5 673.5,712.9 677.0,717.6 680.0,721.2 682.5,723.9 686.0,727.1 689.0,729.4 693.5,732.2 696.5,733.8 699.0,734.8 702.5,735.6 711.0,736.7 736.0,738.4 742.5,738.5 759.5,738.0 767.5,738.0 777.0,738.4 789.5,739.3" fill="none" stroke="#0000ff" stroke-width="1.3" stroke-linejoin="round"/>
<path d="M488.5,739.5 521.0,739.2 527.5,739.0 532.5,738.5 541.0,737.1 547.5,735.7 551.0,734.5 561.5,730.3 565.0,729.4 568.0,729.0 582.0,728.5 588.5,728.5 592.0,728.7 598.0,729.7 601.5,729.9 605.0,729.8 609.0,729.2 611.5,728.5 614.5,727.3 622.0,723.2 625.0,721.3 636.0,712.6 638.5,710.3 643.0,705.3 646.0,703.1 648.5,701.9 651.5,700.9 653.5,700.5 657.5,700.4 659.5,700.5 661.5,701.1 663.5,702.0 665.0,703.1 678.0,715.6 688.0,726.2 691.0,729.2 695.0,732.4 698.5,734.4 701.5,735.4 705.0,736.2 710.0,737.2 715.0,737.8 726.5,738.6 745.0,739.2" fill="none" stroke="#00ff00" stroke-width="1.3" stroke-linejoin="round"/>
<path d="M545.0,739.5 559.0,739.5 570.0,739.1 576.5,738.3 580.0,737.6 582.0,736.9 584.0,736.1 585.5,735.1 587.0,733.8 588.5,732.0 591.0,727.9 592.5,724.6 593.5,721.7 596.0,712.3 598.0,702.9 600.0,690.0 601.5,677.2 604.0,650.2 606.0,624.8 608.0,595.7 610.0,561.3 611.0,548.2 612.5,535.7 613.0,533.3 613.5,532.0 614.0,531.7 614.5,532.1 615.0,532.9 615.5,534.1 616.5,538.0 617.5,543.1 620.0,559.3 623.5,585.2 625.0,593.8 628.5,607.0 633.5,621.9 639.0,640.2 640.5,643.7 642.5,647.6 651.0,662.2 665.0,690.3 677.0,710.0 680.5,715.0 685.0,720.7 687.5,723.4 690.5,726.2 693.5,728.6 696.5,730.7 700.5,733.1 703.0,734.3 705.5,735.0 709.0,735.8 717.0,736.7 742.0,738.4 748.5,738.5 771.5,738.0 779.5,738.2 789.5,738.9" fill="none" stroke="#0000ff" stroke-width="1.3" stroke-linejoin="round"/>
<path d="M488.5,739.5 518.0,739.3 525.5,739.0 530.5,738.7 535.0,738.0 540.5,736.8 547.5,734.7 556.5,731.4 561.0,730.3 566.0,729.4 581.5,727.6 591.0,727.6 597.5,727.9 600.5,727.9 607.0,727.1 611.0,726.4 614.0,725.4 616.0,724.5 622.0,721.3 625.5,718.9 632.0,713.5 636.0,709.9 639.0,706.8 643.5,701.3 645.0,699.9 647.0,698.5 649.5,697.1 652.5,696.1 654.5,695.8 658.0,695.7 660.0,695.9 662.0,696.5 664.0,697.5 665.5,698.7 678.5,712.7 688.5,724.6 691.5,728.0 695.0,731.2 698.5,733.5 701.5,734.7 705.0,735.7 710.0,736.8 715.0,737.5 726.5,738.5 745.0,739.2" fill="none" stroke="#00ff00" stroke-width="1.3" stroke-linejoin="round"/>
<path d="M545.0,739.5 558.0,739.5 569.0,739.1 575.5,738.2 580.5,736.9 582.5,736.1 584.0,735.1 585.5,733.8 587.0,732.0 589.5,727.9 591.0,724.6 592.0,721.7 594.5,712.3 596.5,702.9 598.0,693.7 599.5,682.0 602.0,656.3 604.0,632.6 606.5,598.1 608.5,565.3 609.5,552.9 611.0,541.3 611.5,539.1 612.0,537.9 612.5,537.7 613.0,538.0 613.5,538.7 614.0,539.8 615.0,543.2 616.0,547.6 619.0,565.0 622.5,589.1 624.0,596.2 627.0,607.1 632.0,621.9 637.5,640.2 639.0,643.7 641.0,647.6 649.5,662.2 663.5,690.3 675.5,710.0 679.5,715.6 684.0,721.2 686.5,723.9 690.0,727.1 693.0,729.4 696.5,731.6 699.5,733.3 702.0,734.4 708.0,735.8 716.0,736.7 740.5,738.4 747.0,738.5 770.5,738.0 779.0,738.3 789.5,739.0" fill="none" stroke="#0000ff" stroke-width="1.3" stroke-linejoin="round"/>
<path d="M545.0,739.5 563.5,739.5 575.5,739.1 581.0,738.2 586.0,737.1 588.5,736.4 590.5,735.5 592.0,734.5 595.0,731.2 598.0,726.5 600.5,720.5 603.0,712.2 604.5,705.6 606.5,693.7 608.0,681.5 612.0,637.0 614.0,601.2 615.5,580.6 617.5,559.7 619.5,535.8 620.5,529.1 621.0,527.3 621.5,526.4 622.0,526.5 622.5,527.3 623.5,530.7 626.0,546.3 629.5,560.4 633.0,580.2 636.0,595.3 639.0,608.2 646.5,638.2 650.5,658.0 652.5,666.0 657.0,680.3 660.0,688.8 662.5,695.0 664.5,699.3 667.0,703.8 670.0,708.5 673.0,712.6 676.5,716.7 680.0,720.3 684.5,724.3 688.5,727.3 692.5,729.8 697.0,732.0 703.5,734.6 707.5,735.9 715.0,736.8 737.5,738.4 744.0,738.5 768.5,738.0 778.0,738.4 789.5,739.2" fill="none" stroke="#0000ff" stroke-width="1.3" stroke-linejoin="round"/>
<path d="M482.75,63.9 V361.6 H781.25 V63.5" fill="none" stroke="#7a7a7a" stroke-width="1"/>
<text x="596.60" y="76.40" font-size="7.42" fill="#1a1a1a" font-weight="bold" textLength="69.5" lengthAdjust="spacingAndGlyphs">ENSG00000133703</text>
<text x="673.10" y="76.40" font-size="7.42" fill="#1a1a1a" font-weight="bold" textLength="21.2" lengthAdjust="spacingAndGlyphs">KRAS</text>
<text x="491.50" y="133.40" font-size="8.69" fill="#2b2b2b" textLength="35" lengthAdjust="spacingAndGlyphs">RNA−Seq</text>
<polygon points="535.0,130.0 535.0,124.0 535.8,118.0 536.6,116.0 537.4,112.0 538.2,113.0 539.0,110.0 539.8,109.0 540.6,113.0 541.4,111.0 542.2,112.0 543.0,118.0 543.8,114.0 544.4,105.0 545.0,115.0 545.8,117.0 546.6,116.0 547.4,117.0 548.2,116.0 549.0,120.0 549.8,112.0 550.6,110.0 551.4,118.0 552.2,112.0 553.0,108.0 553.8,117.0 554.6,121.0 555.4,119.0 556.2,118.0 557.0,122.0 557.6,124.0 558.0,130.0 558.0,130.0" fill="#ff0000"/>
<polygon points="535.0,130.0 535.0,139.2 535.2,140.8 535.5,143.9 535.8,146.5 536.0,158.0 536.2,158.0 536.5,158.0 536.8,147.6 537.0,148.6 537.2,148.2 537.5,147.8 537.8,146.2 538.0,155.0 538.2,155.0 538.5,155.0 538.8,147.7 539.0,167.0 539.2,167.0 539.5,167.0 539.8,147.1 540.0,148.6 540.2,148.6 540.5,147.4 540.8,147.2 541.0,157.0 541.2,157.0 541.5,157.0 541.8,147.4 542.0,145.9 542.2,147.1 542.5,153.0 542.8,153.0 543.0,148.0 543.2,147.9 543.5,162.0 543.8,162.0 544.0,162.0 544.2,172.0 544.5,172.0 544.8,172.0 545.0,146.5 545.2,147.1 545.5,146.2 545.8,146.7 546.0,146.0 546.2,161.0 546.5,161.0 546.8,161.0 547.0,147.7 547.2,147.1 547.5,147.3 547.8,146.7 548.0,146.2 548.2,146.7 548.5,147.3 548.8,158.0 549.0,158.0 549.2,158.0 549.5,145.8 549.8,146.6 550.0,146.6 550.2,146.9 550.5,145.5 550.8,145.3 551.0,155.0 551.2,155.0 551.5,155.0 551.8,145.9 552.0,145.3 552.2,146.0 552.5,144.4 552.8,145.2 553.0,145.6 553.2,152.0 553.5,152.0 553.8,152.0 554.0,143.9 554.2,142.6 554.5,142.1 554.8,143.5 555.0,142.4 555.2,142.4 555.5,142.3 555.8,141.2 556.0,140.7 556.2,139.7 556.5,140.7 556.8,140.3 557.0,139.6 557.2,139.4 557.5,138.4 557.8,134.5 558.0,130.0 558.0,130.0" fill="#00ff00"/>
<rect x="558.0" y="129.5" width="1.3" height="1.1" fill="#44dd44"/>
<rect x="561.1" y="129.5" width="1.2" height="1.1" fill="#ee5555"/>
<rect x="565.5" y="129.5" width="0.8" height="1.1" fill="#44dd44"/>
<rect x="567.5" y="129.5" width="1.1" height="1.1" fill="#44dd44"/>
<rect x="570.9" y="129.5" width="1.4" height="1.1" fill="#44dd44"/>
<rect x="575.0" y="129.5" width="1.3" height="1.1" fill="#44dd44"/>
<rect x="578.7" y="129.5" width="0.9" height="1.1" fill="#44dd44"/>
<rect x="581.4" y="129.5" width="1.4" height="1.1" fill="#44dd44"/>
<rect x="584.4" y="129.5" width="1.3" height="1.1" fill="#ee5555"/>
<rect x="587.5" y="129.5" width="0.9" height="1.1" fill="#44dd44"/>
<rect x="591.7" y="129.5" width="1.8" height="1.1" fill="#44dd44"/>
<rect x="596.6" y="129.5" width="1.6" height="1.1" fill="#44dd44"/>
<rect x="599.6" y="129.5" width="1.4" height="1.1" fill="#44dd44"/>
<rect x="603.0" y="129.5" width="0.9" height="1.1" fill="#44dd44"/>
<rect x="606.1" y="129.5" width="0.9" height="1.1" fill="#44dd44"/>
<rect x="609.2" y="129.5" width="1.6" height="1.1" fill="#44dd44"/>
<rect x="612.7" y="129.5" width="0.9" height="1.1" fill="#44dd44"/>
<rect x="615.3" y="129.5" width="0.8" height="1.1" fill="#44dd44"/>
<rect x="617.5" y="129.5" width="1.2" height="1.1" fill="#44dd44"/>
<rect x="621.5" y="129.5" width="1.5" height="1.1" fill="#44dd44"/>
<rect x="625.7" y="129.5" width="1.0" height="1.1" fill="#44dd44"/>
<rect x="628.7" y="129.5" width="1.3" height="1.1" fill="#44dd44"/>
<rect x="643.0" y="129.5" width="0.7" height="1.1" fill="#44dd44"/>
<rect x="647.0" y="129.5" width="0.9" height="1.1" fill="#44dd44"/>
<rect x="650.5" y="129.5" width="1.5" height="1.1" fill="#44dd44"/>
<rect x="654.5" y="129.5" width="0.7" height="1.1" fill="#44dd44"/>
<rect x="656.8" y="129.5" width="0.8" height="1.1" fill="#44dd44"/>
<rect x="659.1" y="129.5" width="1.3" height="1.1" fill="#44dd44"/>
<rect x="663.6" y="129.5" width="1.4" height="1.1" fill="#44dd44"/>
<rect x="667.8" y="129.5" width="0.9" height="1.1" fill="#ee5555"/>
<rect x="671.8" y="129.5" width="1.5" height="1.1" fill="#44dd44"/>
<rect x="676.3" y="129.5" width="1.5" height="1.1" fill="#44dd44"/>
<rect x="681.0" y="129.5" width="1.4" height="1.1" fill="#44dd44"/>
<rect x="684.8" y="129.5" width="0.8" height="1.1" fill="#44dd44"/>
<rect x="688.4" y="129.5" width="1.5" height="1.1" fill="#ee5555"/>
<rect x="693.0" y="129.5" width="1.3" height="1.1" fill="#44dd44"/>
<rect x="696.6" y="129.5" width="1.7" height="1.1" fill="#ee5555"/>
<rect x="700.5" y="129.5" width="1.1" height="1.1" fill="#44dd44"/>
<rect x="703.3" y="129.5" width="0.7" height="1.1" fill="#ee5555"/>
<rect x="706.6" y="129.5" width="0.8" height="1.1" fill="#44dd44"/>
<rect x="708.7" y="129.5" width="0.9" height="1.1" fill="#44dd44"/>
<rect x="712.1" y="129.5" width="1.2" height="1.1" fill="#44dd44"/>
<rect x="715.9" y="129.5" width="1.7" height="1.1" fill="#44dd44"/>
<rect x="719.0" y="129.5" width="0.7" height="1.1" fill="#44dd44"/>
<rect x="723.0" y="129.5" width="1.2" height="1.1" fill="#ee5555"/>
<rect x="729.0" y="129.5" width="0.9" height="1.1" fill="#44dd44"/>
<rect x="733.1" y="129.5" width="1.0" height="1.1" fill="#44dd44"/>
<rect x="737.2" y="129.5" width="0.9" height="1.1" fill="#44dd44"/>
<rect x="739.7" y="129.5" width="1.4" height="1.1" fill="#ee5555"/>
<rect x="743.9" y="129.5" width="1.0" height="1.1" fill="#44dd44"/>
<rect x="746.5" y="129.5" width="1.0" height="1.1" fill="#44dd44"/>
<rect x="750.6" y="129.5" width="0.8" height="1.1" fill="#ee5555"/>
<rect x="632.40" y="107.50" width="1.40" height="22.50" fill="#e83030"/>
<rect x="632.40" y="130.00" width="1.40" height="21.90" fill="#33ee33"/>
<rect x="640.20" y="113.75" width="1.40" height="16.25" fill="#e83030"/>
<rect x="640.20" y="130.00" width="1.40" height="33.10" fill="#33ee33"/>
<rect x="726.65" y="107.00" width="1.30" height="23.00" fill="#e83030"/>
<rect x="726.65" y="130.00" width="1.30" height="29.50" fill="#33ee33"/>
<rect x="752.75" y="122.00" width="1.10" height="8.00" fill="#e83030"/>
<rect x="752.75" y="130.00" width="1.10" height="14.00" fill="#33ee33"/>
<polygon points="674.0,130.0 676.0,128.0 678.0,127.5 679.0,126.0 680.0,127.5 682.0,128.5 683.0,130.0" fill="#e04040"/>
<rect x="674.00" y="130.00" width="9.00" height="1.80" fill="#22cc22"/>
<line x1="762.50" y1="88.75" x2="762.50" y2="172.50" stroke="#333" stroke-width="0.9" stroke-dasharray="1.6,1.6"/>
<line x1="762.50" y1="88.75" x2="764.50" y2="88.75" stroke="#333" stroke-width="0.9"/>
<line x1="762.50" y1="109.60" x2="764.50" y2="109.60" stroke="#333" stroke-width="0.9"/>
<line x1="762.50" y1="130.40" x2="764.50" y2="130.40" stroke="#333" stroke-width="0.9"/>
<line x1="762.50" y1="151.30" x2="764.50" y2="151.30" stroke="#333" stroke-width="0.9"/>
<line x1="762.50" y1="172.50" x2="764.50" y2="172.50" stroke="#333" stroke-width="0.9"/>
<text x="769.20" y="91.00" font-size="5.94" fill="#333" textLength="5.8" lengthAdjust="spacingAndGlyphs">96</text>
<text x="770.20" y="132.40" font-size="5.94" fill="#333">0</text>
<text x="769.20" y="174.50" font-size="5.94" fill="#333" textLength="5.8" lengthAdjust="spacingAndGlyphs">96</text>
<line x1="762.50" y1="214.00" x2="762.50" y2="325.10" stroke="#333" stroke-width="0.9" stroke-dasharray="1.6,1.6"/>
<line x1="762.50" y1="214.00" x2="764.50" y2="214.00" stroke="#333" stroke-width="0.9"/>
<line x1="762.50" y1="241.80" x2="764.50" y2="241.80" stroke="#333" stroke-width="0.9"/>
<line x1="762.50" y1="270.20" x2="764.50" y2="270.20" stroke="#333" stroke-width="0.9"/>
<line x1="762.50" y1="298.00" x2="764.50" y2="298.00" stroke="#333" stroke-width="0.9"/>
<line x1="762.50" y1="325.10" x2="764.50" y2="325.10" stroke="#333" stroke-width="0.9"/>
<text x="774.00" y="214.00" font-size="5.94" fill="#333" text-anchor="middle" transform="rotate(-90 774.00 214.00)">12</text>
<text x="770.20" y="272.20" font-size="5.94" fill="#333">0</text>
<text x="774.00" y="325.10" font-size="5.94" fill="#333" text-anchor="middle" transform="rotate(-90 774.00 325.10)">12</text>
<text x="622.00" y="185.80" font-size="5.72" fill="#3a3aff" textLength="45.2" lengthAdjust="spacingAndGlyphs">ENST00000311936</text>
<rect x="534.75" y="191.90" width="22.75" height="11.60" fill="#bebebe"/>
<line x1="557.50" y1="198.30" x2="753.90" y2="198.30" stroke="#444" stroke-width="1.0"/>
<line x1="753.90" y1="192.70" x2="753.90" y2="203.60" stroke="#666" stroke-width="1.0"/>
<line x1="557.50" y1="192.50" x2="557.50" y2="203.80" stroke="#222" stroke-width="1.6"/>
<path d="M561.5,193.6 L557.5,198.3 L561.5,203" fill="none" stroke="#333" stroke-width="0.8"/>
<line x1="633.20" y1="192.50" x2="633.20" y2="203.80" stroke="#222" stroke-width="1.6"/>
<path d="M637.2,193.6 L633.2,198.3 L637.2,203" fill="none" stroke="#333" stroke-width="0.8"/>
<line x1="640.90" y1="192.50" x2="640.90" y2="203.80" stroke="#222" stroke-width="1.6"/>
<path d="M644.9,193.6 L640.9,198.3 L644.9,203" fill="none" stroke="#333" stroke-width="0.8"/>
<line x1="727.40" y1="192.50" x2="727.40" y2="203.80" stroke="#222" stroke-width="1.6"/>
<path d="M731.4,193.6 L727.4,198.3 L731.4,203" fill="none" stroke="#333" stroke-width="0.8"/>
<line x1="555.50" y1="204.00" x2="535.60" y2="267.00" stroke="#666" stroke-width="1.0" stroke-dasharray="1.8,2.2"/>
<line x1="559.40" y1="204.00" x2="570.50" y2="241.00" stroke="#666" stroke-width="1.0" stroke-dasharray="1.8,2.2"/>
<line x1="630.50" y1="202.00" x2="581.50" y2="268.00" stroke="#666" stroke-width="1.0" stroke-dasharray="1.8,2.2"/>
<line x1="634.80" y1="205.00" x2="641.20" y2="267.00" stroke="#666" stroke-width="1.0" stroke-dasharray="1.8,2.2"/>
<line x1="640.30" y1="205.00" x2="641.80" y2="267.00" stroke="#666" stroke-width="1.0" stroke-dasharray="1.8,2.2"/>
<line x1="645.00" y1="202.00" x2="705.20" y2="263.50" stroke="#666" stroke-width="1.0" stroke-dasharray="1.8,2.2"/>
<line x1="727.00" y1="202.50" x2="716.30" y2="250.50" stroke="#666" stroke-width="1.0" stroke-dasharray="1.8,2.2"/>
<line x1="729.50" y1="202.50" x2="754.00" y2="269.00" stroke="#666" stroke-width="1.0" stroke-dasharray="1.8,2.2"/>
<text x="496.70" y="272.60" font-size="8.69" fill="#2b2b2b" textLength="38.6" lengthAdjust="spacingAndGlyphs">Proteomics</text>
<line x1="535.60" y1="270.25" x2="754.50" y2="270.25" stroke="#b4b4b4" stroke-width="0.9"/>
<rect x="566.90" y="242.40" width="13.70" height="27.85" fill="#ff0000"/>
<rect x="566.90" y="270.25" width="13.70" height="66.75" fill="#00ff00"/>
<rect x="583.10" y="270.25" width="21.90" height="5.45" fill="#00ff00"/>
<rect x="611.00" y="270.25" width="24.00" height="5.45" fill="#00ff00"/>
<rect x="618.00" y="270.25" width="15.00" height="22.25" fill="#00ff00"/>
<rect x="617.80" y="264.50" width="17.40" height="5.75" fill="#ff0000"/>
<rect x="706.00" y="253.10" width="11.70" height="17.15" fill="#ff0000"/>
<rect x="706.00" y="270.25" width="11.70" height="5.65" fill="#00ff00"/>
<rect x="734.75" y="270.25" width="13.00" height="5.65" fill="#00ff00"/>
<rect x="740.20" y="270.25" width="1.20" height="5.65" fill="#102010"/>
<text x="732.00" y="290.60" font-size="9.12" fill="#333" textLength="20.2" lengthAdjust="spacingAndGlyphs">G12V</text>
<rect x="539.00" y="346.90" width="5.00" height="3.60" fill="#e00000" stroke="#800" stroke-width="0.4"/>
<text x="548.00" y="350.80" font-size="5.94" fill="#444" textLength="10" lengthAdjust="spacingAndGlyphs">RKO</text>
<rect x="572.40" y="346.90" width="4.20" height="3.60" fill="#22dd22" stroke="#070" stroke-width="0.4"/>
<text x="580.50" y="350.80" font-size="5.94" fill="#444" textLength="16.5" lengthAdjust="spacingAndGlyphs">SW480</text>
<rect x="604.00" y="346.90" width="4.20" height="3.60" fill="#1010aa" stroke="#006" stroke-width="0.4"/>
<text x="612.50" y="350.80" font-size="5.94" fill="#444" textLength="19.6" lengthAdjust="spacingAndGlyphs">Mutation</text>
<rect x="636.40" y="346.90" width="4.30" height="3.60" fill="#cfcfcf" stroke="#444" stroke-width="0.6"/>
<text x="645.00" y="350.80" font-size="5.94" fill="#444" textLength="19.5" lengthAdjust="spacingAndGlyphs">5'3'UTR</text>
</svg></body></html>
